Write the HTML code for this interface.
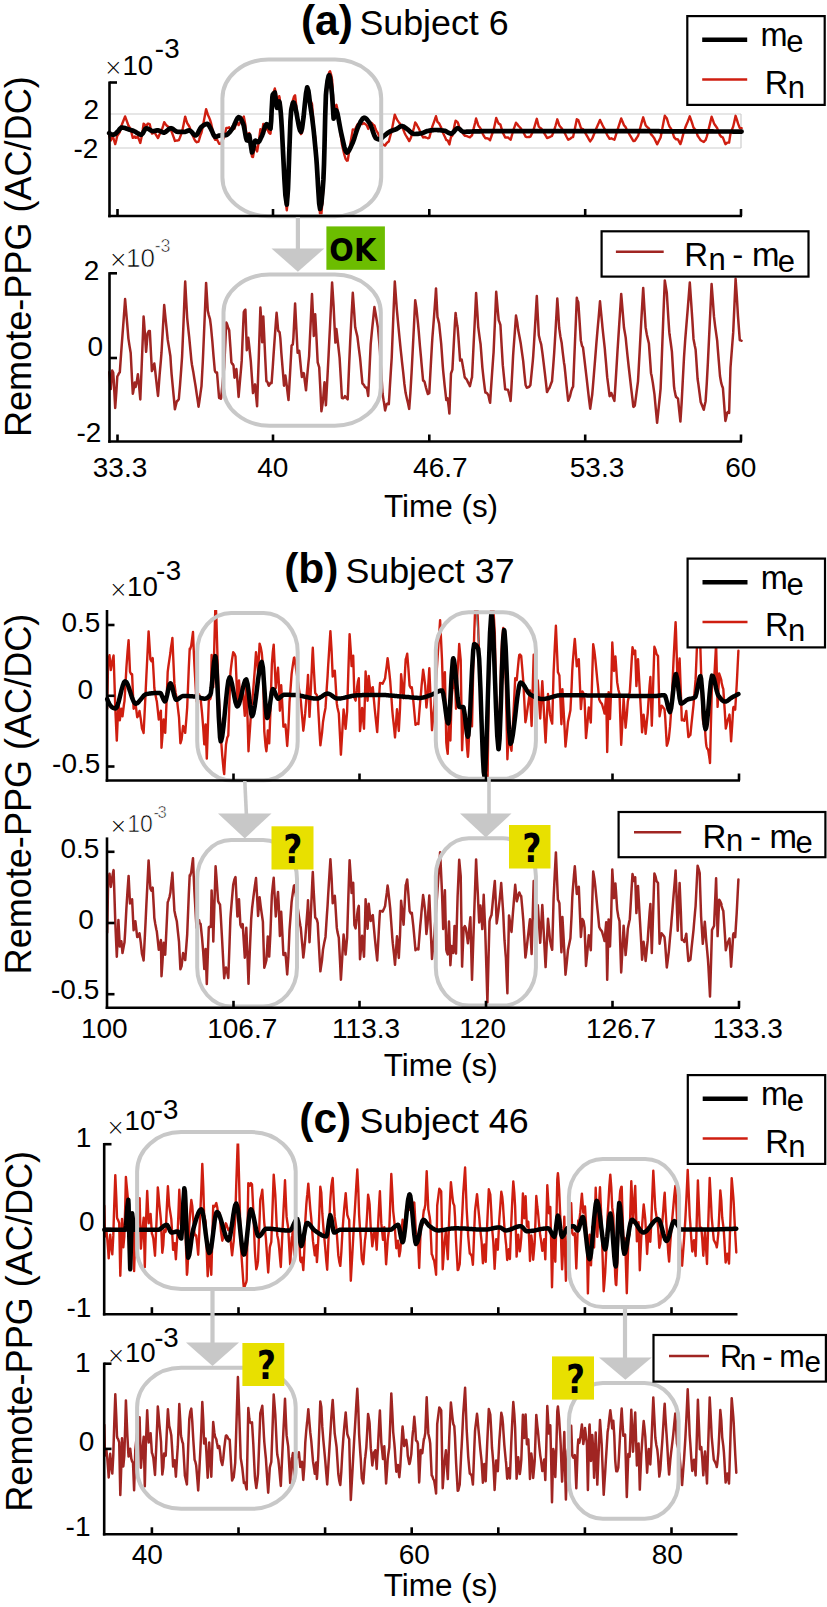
<!DOCTYPE html><html><head><meta charset="utf-8"><title>Remote-PPG figure</title><style>html,body{margin:0;padding:0;background:#fff;}body{width:827px;height:1607px;overflow:hidden}svg{display:block}</style></head><body>
<svg width="827" height="1607" viewBox="0 0 827 1607">
<rect x="0" y="0" width="827" height="1607" fill="#fff"/>
<defs><clipPath id="clipa1"><rect x="0" y="60" width="827" height="156"/></clipPath><clipPath id="clipa2"><rect x="0" y="273" width="827" height="168.5"/></clipPath><clipPath id="clipb1"><rect x="0" y="610" width="827" height="170.5"/></clipPath><clipPath id="clipb2"><rect x="0" y="837.4" width="827" height="170.4"/></clipPath><clipPath id="clipc1"><rect x="0" y="1143.6" width="827" height="170.6"/></clipPath><clipPath id="clipc2"><rect x="0" y="1363.7" width="827" height="170.6"/></clipPath></defs>
<line x1="109.5" y1="114" x2="741" y2="114" stroke="#cdcdcd" stroke-width="1.2" stroke-linecap="butt"/>
<line x1="109.5" y1="148" x2="741" y2="148" stroke="#cdcdcd" stroke-width="1.2" stroke-linecap="butt"/>
<line x1="741" y1="114" x2="741" y2="148" stroke="#cdcdcd" stroke-width="1.2" stroke-linecap="butt"/>
<polyline points="109.2,136.1 110.4,139.6 110.8,140.5 111.6,138.6 112.2,137.2 112.8,137.5 113.2,137.7 113.7,139.2 115.2,144.1 116.4,139.6 117.3,135.7 118.1,134.6 118.8,133.5 119.8,132 121.2,126.6 121.7,125.1 122.4,123.3 123.6,120.3 124.8,117.2 125.1,116.4 126,118.9 127.2,122.1 128.4,125.5 129.6,127.4 130.7,129.1 132,134.7 132.8,137.9 133.2,137.7 134,137.1 134.4,136.8 134.8,136.4 135.6,137.8 136.8,137.5 137.9,136.8 139.2,140.1 140.3,143 141.3,138.3 142.8,129.4 143.6,123.6 144,123.9 145.2,125.2 146.1,127.1 147.6,123.7 148.8,123.8 149.8,124.4 151.2,130.6 151.9,133.6 152.4,133.5 152.9,133.2 153.6,132.7 154.3,132.2 154.8,132.8 156,134.8 157.2,136.8 158,138.1 158.4,137.2 159.6,134.3 160.8,132.2 161.5,130.9 162,129.4 163.2,125.7 163.8,123.7 164.2,122.1 165.6,124.2 166.8,125.6 167.7,126.5 168,126.7 169.2,127.1 170.4,128.1 171,129.9 171.6,131.6 172.8,134.8 174,138.2 174.9,140.9 175.2,140.8 176.4,140.6 176.9,140.5 177.5,140.5 178.8,140.2 180,137.4 181.2,134.2 182.1,131.6 182.4,130.2 183.6,124.5 184.8,118.3 185.2,116.6 186,119.4 187.2,123.1 188.4,125 189.2,126.3 189.6,127.2 190.8,130.5 191.3,132.1 192,133.9 193.2,136.6 194.4,139.3 195,140.4 195.6,141.3 196.8,142.2 198,141.9 198.5,141.7 199.2,139.5 200.4,135.4 201.5,132.5 202.8,126.7 203.2,124.6 204,120.3 205.2,113.9 206.1,109.2 207.3,112.9 207.8,114.7 208.8,116.7 210,119.6 210.9,122.6 212.4,129 212.9,131.5 213.6,134.7 214.8,139.3 215.3,139.8 216,139.8 217,139.4 218.4,142.3 219.1,143.7 219.6,143.6 220.8,143.7 221.1,143.5 222,141.5 223.2,139.2 224.2,137.2 225.6,131 225.9,129.7 226.3,128 226.8,128 228,127.9 229.2,127.3 230.4,129.2 231.4,130.9 232.4,129.9 232.8,129.3 233.5,128.4 234,128.6 234.5,128.6 235.2,126.2 236.4,122.4 237.6,123.1 238.6,125.1 240,122.4 241.2,121.5 241.7,121.2 242.4,119.3 243.3,117.3 243.8,116.6 244.8,121.7 245.4,125 246,131.5 246.8,138.8 247.2,138.3 248.3,133.6 249.3,133 250.8,146 252,156.7 253,157 254.4,148.5 255.1,146.1 255.6,147.2 256.8,150.7 257.1,151.5 258,146.5 258.8,141.7 259.2,138.4 260.4,129.1 261.6,130.2 262.2,132.2 262.8,127.9 263.3,124 264,124.6 264.7,125.4 265.2,126.3 266.4,129.1 266.7,128.9 267.6,129.8 268.4,131.5 268.8,132.4 270,133.7 270.5,133.7 271.2,125.9 271.6,116.4 272.4,99.8 272.7,96.9 273.6,92.7 274.8,88.5 276,93.4 276.6,97.4 277,99.8 278.2,98.8 279.2,96.2 279.6,97.6 280.3,104 280.8,110.2 281.3,118.7 282,132.1 283.2,158.9 284,176.7 284.4,184.2 285.4,198.8 286.8,210.3 288,196.4 288.5,183.9 289.2,160.5 290.4,123.3 291.2,109.2 291.6,105.6 292.8,100.5 293.4,98.5 294,96.6 295.1,95.3 296.4,106.9 297.6,118.5 298.8,124.7 299.2,126.2 300,130.6 301,134.1 301.9,133 302.2,131.1 303.6,120 303.9,116.9 304.8,109.1 306,99.9 307.2,91 308.4,91.9 309.1,95.5 309.6,97.9 310.3,100.3 310.8,101.3 312,103.9 313.2,118.8 313.8,127.4 314.4,131.4 315.2,137.4 315.6,143 316.3,153.3 316.8,162 317.7,180.7 318,186.5 319.2,205.6 320.1,214.3 321.4,214.2 322.8,196.9 323.4,187.4 324,170.7 324.5,151.4 325.2,123.6 325.9,104.8 326.4,97.5 327.6,83.7 328.6,75.5 329.2,72.2 330,71.2 331.2,75 332.1,79.8 333.6,108.3 334.8,109.2 335.4,108.4 335.9,105.8 336.4,104.8 337.2,108.3 338.4,116 339.6,125 340.8,135.5 341.4,140.2 341.9,144.3 343.2,150 344.4,155 345,157 345.6,158.9 346.8,160.7 347.7,160.5 348,158.7 349.2,151.3 350.2,145 351.6,136.5 352.2,133.1 352.8,129.5 354,129.6 355.2,129.3 356.4,126.5 357.4,124.5 358.8,123.4 360,123 360.4,122.9 361.2,123.3 362.4,124.1 363.6,123.3 364.2,123.3 364.8,123.7 366,124.6 366.6,125.2 367.2,126.3 368.2,128.9 369.6,125.1 370.7,122.6 372,123.3 373.2,124.7 374.4,125.5 375.6,129.1 376.2,130.3 376.8,131.4 377.9,133.1 379.2,136.2 380,138 380.4,139.4 381.6,142.3 382.6,144.4 383.7,144.9 384,145 385.1,145.6 386.4,143.5 386.8,143 387.6,142.3 388.8,141.5 389.5,138.9 390,137 391.2,132.6 391.7,130.9 392.4,127.1 393.6,120.7 394.8,114.6 396,117.4 396.8,119.2 397.2,119.9 398.4,121.6 399.6,123.2 400.8,124.9 401.6,126.1 402,126.9 403.2,129.3 404.4,132.4 405.6,135 406.8,137 408,138.9 409.2,141.1 410.4,138.9 411.6,135.8 412.8,131.9 414,127.6 415.2,122.5 416.4,124 417.6,126.3 418,126.9 418.8,128.6 420,131.3 421.1,133.5 421.4,134.2 422.4,136.2 423.1,137.4 423.6,137.1 424.6,137 426,137.5 427.2,138 427.9,138.3 428.4,138.1 429.3,137.8 429.6,136.6 430.8,132 432,127.6 432.4,126.3 433.2,124.1 434.4,120.9 435.6,117.5 436,116.2 436.8,119.2 437.5,122 438,122.3 439.1,123.4 440.4,126 441.2,127.6 441.6,128.7 442.8,132.3 443.2,133.3 444,135 444.6,136.3 445.2,137.5 446.3,140 447.6,140.3 448.8,143 449.4,144.4 450,141.6 451,136.9 452.4,135.6 453.6,129.9 454.8,124 455.6,120.7 456,120.9 457.2,121.9 457.6,122.2 458.4,124.3 459.6,128.3 460.1,130.1 460.8,130.7 461.7,131.4 463.2,133.9 463.5,134.2 464.4,135.3 464.8,135.8 465.6,135.9 466.8,136.2 467.5,136.4 468,136.6 469.2,137 469.9,137.3 470.4,136.8 471.6,135.7 472,135.5 472.8,132.2 473.7,128.4 474,127.2 475.2,122.5 476.1,118.5 477.6,123.1 478.2,125.2 478.8,126.1 480,127.8 480.6,128.6 481.2,130.2 482.4,133.3 483.6,135.5 484.8,137.4 485.4,138.2 486,138.2 487.2,138.3 488,138.6 488.4,138.7 489.6,139.8 490.1,140.2 490.8,138 492,134.5 493.2,131.1 493.6,130 494.4,126.4 495,123.7 495.6,120.9 496.2,118 496.8,119.4 498,122.2 498.7,123.6 499.2,123.9 500.4,124.6 501.6,128.7 502.8,132.6 504,135 505.2,137.5 506.4,137.5 507.6,137.5 508,137.5 508.8,138.2 510,139.1 510.6,139.8 511.2,137.8 512.4,133.5 513.1,130.7 513.6,129.3 514.8,126.1 516,122.7 517.2,124 518.2,125.6 519.6,127 520.8,128.4 522,130.1 523.2,131.8 524.4,134.3 525.6,136.6 526.8,137.1 528,137.1 528.5,137 529.2,137 530.4,136.6 531.6,134.2 532.8,131.8 533.2,130.8 534,128.3 535.2,124.4 536.4,120.2 536.8,118.8 537.6,122 538.8,126.7 540,127.7 541.2,128.5 542.4,130.2 543.6,132.2 543.9,132.6 544.8,134.1 546,136.2 547,138 548.4,137.5 549.6,137.1 550.8,136.5 552,135.9 553.2,132.8 554.2,130.1 555.6,125.5 556.8,121.2 557.3,119.3 558,121.3 559.2,125.2 560.4,126.9 561.6,128.1 562.8,130.2 564,132.2 564.5,132.7 565.2,134 566.4,136.5 567.6,138.7 568.2,139.8 568.8,139.5 570,138.9 570.7,138.3 571.2,137.8 572.4,137.2 573.1,137 573.6,134.6 574.8,128.9 576,123.3 576.8,119.2 577.2,119.5 578.3,120.1 579.6,123.9 580.8,127.7 582,128.8 583,129.1 584.4,131.5 585.5,133.3 586.8,135.6 588,137.7 589.2,139.8 590.2,141.4 591.6,139.4 592.2,138.6 592.8,137.2 594,134.3 595.2,131.3 596.4,128.3 597.6,125.5 598.8,122.8 600,119.9 601.2,122.4 602.1,124.2 602.4,125 603.6,127.2 604.8,129.4 605.1,130.2 606,132.2 607.2,135.1 608.4,136.9 609.6,138.9 610.8,138.6 611.3,138.3 612,138.6 613.2,139.2 614.4,139.8 615.6,136.1 616.8,132.2 617.5,129.9 618,128.3 619.2,124.6 620.4,121 621.2,118.4 621.6,119.4 622.8,122.3 624,125.2 625.2,126.6 625.7,127.2 626.4,128.7 627.6,131 628.8,133.2 630,135.3 630.8,136.7 631.2,137.4 632.4,139.4 633.3,141 633.6,141.1 634.8,140.8 636,139 637.2,137.2 638,135.9 638.4,134.6 639.6,130.2 640.8,125.7 642,121.4 643.2,117.3 644.4,121.3 645.6,125.2 646.8,126.6 648,127.7 648.9,128.4 650.4,132.6 651,134.4 651.6,134.8 652.8,136.3 654,137.9 654.5,138.7 655.2,140.2 656.4,142.8 657.1,144.3 657.6,143.4 658.8,141 660,138.7 660.6,137.5 661.2,134.5 662.4,128.1 663.6,121.7 664.8,115.8 666,117.4 666.8,118.3 667.2,119.7 668.4,123.6 669.3,126.2 669.6,126.7 670.8,128.4 671.9,130.1 673.2,134.4 674,137 674.4,137.6 675.6,138.9 676,139.2 676.8,139.3 678,139.5 679.2,141.9 680.4,144.1 681.6,140.5 682.8,135.9 684,131.3 685.2,127.8 686.4,124.8 687.6,122 688.8,118.9 689.8,116.3 691.2,120.4 692.4,124 693.5,127.6 694.8,129 695.6,129.8 696,130.9 697.2,134.4 697.6,135.7 698.4,136.8 699.6,138.6 700.7,140.3 702,141 703.2,141.6 703.8,141.9 704.4,141.2 705.6,140.2 706.8,136.5 707.9,132.4 709.2,126.9 710.4,121.9 711.6,116.7 712.8,119.9 714,123.3 715.2,125.3 716.4,127 717.2,128.2 717.6,129.2 718.8,132.2 720,135.2 721.2,136.6 722.4,137.3 722.9,137.6 723.6,139.4 724.8,142.6 725.4,144.2 726,143.8 727.2,142.6 728.4,142.4 729.1,142.6 729.6,139.3 730.5,133.5 732,129.6 733.2,126.5 734.4,121.3 735.6,115.8 736.8,119.3 738,123.4 739.2,126.6 739.8,128.1 740.4,128.1 741,128.2 741.6,128.3" fill="none" stroke="#cf1e10" stroke-width="2.4" stroke-linejoin="round" stroke-linecap="round" clip-path="url(#clipa1)"/>
<polyline points="109.2,133.1 110.4,134 110.8,134.1 111.6,134.4 112.2,134.6 112.8,134.7 113.2,134.7 113.7,134.7 115.2,134 116.4,132.9 117.3,131.9 118.1,131.1 118.8,130.3 119.8,129 121.2,127.6 121.7,127.5 122.4,127.5 123.6,127.7 124.8,128 125.1,128.1 126,128.4 127.2,128.8 128.4,129.3 129.6,129.7 130.7,130 132,130.4 132.8,130.6 133.2,130.8 134,131.1 134.4,131.3 134.8,131.5 135.6,131.9 136.8,132.7 137.9,133.4 139.2,134.1 140.3,134.6 141.3,134.7 142.8,133.3 143.6,131.9 144,131.2 145.2,129.1 146.1,128.3 147.6,128.5 148.8,129.1 149.8,129.8 151.2,130.6 151.9,130.9 152.4,131.1 152.9,131.1 153.6,131.1 154.3,131 154.8,130.9 156,130.6 157.2,130.4 158,130.4 158.4,130.4 159.6,130.8 160.8,131.4 161.5,131.9 162,132.1 163.2,132.5 163.8,132.6 164.2,132.6 165.6,131.9 166.8,130.9 167.7,130.1 168,129.9 169.2,128.9 170.4,128.3 171,128.2 171.6,128.3 172.8,128.9 174,129.8 174.9,130.5 175.2,130.8 176.4,131.5 176.9,131.7 177.5,131.8 178.8,131.8 180,131.8 181.2,131.8 182.1,131.8 182.4,131.8 183.6,131.8 184.8,131.8 185.2,131.8 186,131.5 187.2,131 188.4,130.5 189.2,130.4 189.6,130.5 190.8,131.2 191.3,131.7 192,132.4 193.2,133.8 194.4,135 195,135.3 195.6,135.5 196.8,134.8 198,132.9 198.5,131.8 199.2,130.4 200.4,128.2 201.5,126.8 202.8,125.8 203.2,125.5 204,125 205.2,124.4 206.1,124.1 207.3,123.9 207.8,124 208.8,125.2 210,127.3 210.9,128.9 212.4,132.1 212.9,133.3 213.6,134.9 214.8,136.7 215.3,136.9 216,136.8 217,136.5 218.4,135.8 219.1,135.6 219.6,135.5 220.8,135.4 221.1,135.4 222,135.3 223.2,135.3 224.2,135.2 225.6,135.1 225.9,135.1 226.3,135 226.8,134.8 228,134 229.2,132.7 230.4,131.2 231.4,129.9 232.4,128.6 232.8,128 233.5,126.8 234,125.7 234.5,124.5 235.2,122.9 236.4,120.1 237.6,118 238.6,117.2 240,117.7 241.2,119.5 241.7,120.5 242.4,122.1 243.3,124.2 243.8,125.7 244.8,131.1 245.4,134.6 246,137.7 246.8,140.3 247.2,140.5 248.3,137.5 249.3,135.1 250.8,145.2 252,152.5 253,149.9 254.4,142.7 255.1,140.7 255.6,140.6 256.8,141.5 257.1,141.8 258,142.2 258.8,141.8 259.2,141.3 260.4,139.1 261.6,136.6 262.2,135.2 262.8,133.7 263.3,132.2 264,129.8 264.7,127.6 265.2,126.3 266.4,124.3 266.7,124.2 267.6,124.8 268.4,126.1 268.8,126.7 270,128.4 270.5,128.6 271.2,120.8 271.6,111.3 272.4,96.9 272.7,94.8 273.6,93.4 274.8,92.6 276,100.8 276.6,106.3 277,107.9 278.2,104.1 279.2,101.4 279.6,102.6 280.3,107.9 280.8,112.8 281.3,119.7 282,131.4 283.2,155.3 284,171.1 284.4,179.1 285.4,195.1 286.8,204.6 288,188.7 288.5,175.4 289.2,154.2 290.4,121.3 291.2,110.1 291.6,108 292.8,103.1 293.4,102.4 294,102.9 295.1,106.1 296.4,112.5 297.6,119.4 298.8,125.8 299.2,127.6 300,130.4 301,131.8 301.9,129.1 302.2,127.5 303.6,116.9 303.9,113.7 304.8,104.4 306,93.4 307.2,87.3 308.4,90.8 309.1,95.8 309.6,100.4 310.3,105.7 310.8,108.8 312,116.6 313.2,126.4 313.8,131.7 314.4,137.7 315.2,146.1 315.6,150.2 316.3,157.9 316.8,164.6 317.7,179.7 318,185.3 319.2,203.6 320.1,209 321.4,203.4 322.8,188 323.4,179.7 324,164.6 324.5,146.5 325.2,116.2 325.9,95.3 326.4,89.8 327.6,80.4 328.6,76 329.2,75.2 330,77.3 331.2,86.2 332.1,94.8 333.6,118.6 334.8,114.4 335.4,111.4 335.9,110.1 336.4,110.5 337.2,112.6 338.4,118.1 339.6,124.9 340.8,131.4 341.4,134 341.9,136.2 343.2,141.9 344.4,147.1 345,149.3 345.6,151 346.8,152.5 347.7,152.1 348,151.8 349.2,150.1 350.2,148.2 351.6,145.1 352.2,143.8 352.8,142.5 354,139.2 355.2,135.4 356.4,131.5 357.4,128.7 358.8,125.3 360,123 360.4,122.1 361.2,120.8 362.4,118.9 363.6,117.9 364.2,117.7 364.8,117.8 366,118.5 366.6,119.1 367.2,119.8 368.2,121.2 369.6,123.1 370.7,125.3 372,128.8 373.2,132.4 374.4,135.6 375.6,137.9 376.2,138.4 376.8,138.7 377.9,139.1 379.2,139.4 380,139.3 380.4,139.1 381.6,138.2 382.6,137.1 383.7,136.2 384,136 385.1,135.1 386.4,134 386.8,133.7 387.6,133 388.8,132.2 389.5,131.8 390,131.5 391.2,131 391.7,130.8 392.4,130.6 393.6,130.1 394.8,129.7 396,129.3 396.8,128.9 397.2,128.7 398.4,127.8 399.6,126.9 400.8,126.2 401.6,126 402,126 403.2,126.4 404.4,127.1 405.6,128 406.8,128.8 408,129.7 409.2,130.8 410.4,131.9 411.6,132.9 412.8,133.6 414,134 415.2,134 416.4,133.9 417.6,133.8 418,133.8 418.8,133.7 420,133.5 421.1,133.4 421.4,133.3 422.4,133 423.1,132.8 423.6,132.6 424.6,132.1 426,131.5 427.2,131.1 427.9,131 428.4,130.9 429.3,130.7 429.6,130.6 430.8,130.4 432,130.3 432.4,130.2 433.2,130.1 434.4,130 435.6,130 436,130 436.8,130 437.5,130 438,130.1 439.1,130.1 440.4,130.2 441.2,130.3 441.6,130.4 442.8,130.5 443.2,130.6 444,130.7 444.6,130.8 445.2,130.9 446.3,131.4 447.6,132.2 448.8,132.9 449.4,133.2 450,133.5 451,133.7 452.4,133.2 453.6,132 454.8,130.5 455.6,129.6 456,129.1 457.2,128.3 457.6,128.2 458.4,128.3 459.6,129.1 460.1,129.5 460.8,130.2 461.7,131 463.2,131.8 463.5,131.8 464.4,131.8 464.8,131.8 465.6,131.8 466.8,131.7 467.5,131.7 468,131.7 469.2,131.6 469.9,131.6 470.4,131.5 471.6,131.5 472,131.5 472.8,131.4 473.7,131.4 474,131.4 475.2,131.4 476.1,131.3 477.6,131.3 478.2,131.3 478.8,131.3 480,131.3 480.6,131.3 481.2,131.2 482.4,131.2 483.6,131.2 484.8,131.2 485.4,131.2 486,131.2 487.2,131.2 488,131.1 488.4,131.1 489.6,131.1 490.1,131.1 490.8,131.1 492,131.1 493.2,131.1 493.6,131.1 494.4,131.1 495,131.1 495.6,131.1 496.2,131.1 496.8,131.1 498,131.1 498.7,131.1 499.2,131.1 500.4,131.1 501.6,131.1 502.8,131.1 504,131.1 505.2,131.1 506.4,131.1 507.6,131.1 508,131.1 508.8,131.1 510,131.1 510.6,131.1 511.2,131.1 512.4,131.1 513.1,131.1 513.6,131.1 514.8,131.1 516,131.1 517.2,131.1 518.2,131.1 519.6,131.1 520.8,131.1 522,131.1 523.2,131.1 524.4,131.1 525.6,131.1 526.8,131.1 528,131.1 528.5,131.1 529.2,131.1 530.4,131.1 531.6,131.1 532.8,131.1 533.2,131.1 534,131.1 535.2,131.1 536.4,131.1 536.8,131.1 537.6,131.1 538.8,131.1 540,131.1 541.2,131.1 542.4,131.1 543.6,131.1 543.9,131.1 544.8,131.1 546,131.1 547,131.1 548.4,131.1 549.6,131.1 550.8,131.1 552,131.1 553.2,131.1 554.2,131.1 555.6,131.1 556.8,131.1 557.3,131.1 558,131.1 559.2,131.1 560.4,131.1 561.6,131.1 562.8,131.1 564,131.1 564.5,131.1 565.2,131.1 566.4,131.1 567.6,131.1 568.2,131.1 568.8,131.1 570,131.1 570.7,131.1 571.2,131.1 572.4,131.1 573.1,131.1 573.6,131.1 574.8,131.1 576,131.1 576.8,131.1 577.2,131.1 578.3,131.1 579.6,131.1 580.8,131.1 582,131.1 583,131.1 584.4,131.1 585.5,131.1 586.8,131.1 588,131.1 589.2,131.1 590.2,131.1 591.6,131.1 592.2,131.1 592.8,131.1 594,131.1 595.2,131.1 596.4,131.1 597.6,131.1 598.8,131.1 600,131.1 601.2,131.1 602.1,131.1 602.4,131.1 603.6,131.1 604.8,131.1 605.1,131.1 606,131.1 607.2,131.1 608.4,131.1 609.6,131.2 610.8,131.2 611.3,131.2 612,131.2 613.2,131.2 614.4,131.2 615.6,131.2 616.8,131.2 617.5,131.2 618,131.2 619.2,131.2 620.4,131.2 621.2,131.2 621.6,131.2 622.8,131.2 624,131.2 625.2,131.2 625.7,131.2 626.4,131.2 627.6,131.2 628.8,131.2 630,131.2 630.8,131.2 631.2,131.2 632.4,131.2 633.3,131.2 633.6,131.2 634.8,131.2 636,131.2 637.2,131.2 638,131.2 638.4,131.2 639.6,131.2 640.8,131.2 642,131.2 643.2,131.2 644.4,131.2 645.6,131.2 646.8,131.2 648,131.2 648.9,131.2 650.4,131.2 651,131.2 651.6,131.2 652.8,131.2 654,131.2 654.5,131.2 655.2,131.2 656.4,131.2 657.1,131.2 657.6,131.2 658.8,131.2 660,131.3 660.6,131.3 661.2,131.3 662.4,131.3 663.6,131.3 664.8,131.3 666,131.3 666.8,131.3 667.2,131.3 668.4,131.3 669.3,131.3 669.6,131.3 670.8,131.3 671.9,131.3 673.2,131.3 674,131.3 674.4,131.3 675.6,131.3 676,131.3 676.8,131.3 678,131.3 679.2,131.3 680.4,131.3 681.6,131.3 682.8,131.3 684,131.3 685.2,131.3 686.4,131.3 687.6,131.3 688.8,131.3 689.8,131.3 691.2,131.4 692.4,131.4 693.5,131.4 694.8,131.4 695.6,131.4 696,131.4 697.2,131.4 697.6,131.4 698.4,131.4 699.6,131.4 700.7,131.4 702,131.4 703.2,131.4 703.8,131.4 704.4,131.4 705.6,131.4 706.8,131.4 707.9,131.4 709.2,131.4 710.4,131.4 711.6,131.4 712.8,131.4 714,131.5 715.2,131.5 716.4,131.5 717.2,131.5 717.6,131.5 718.8,131.5 720,131.5 721.2,131.5 722.4,131.5 722.9,131.5 723.6,131.5 724.8,131.5 725.4,131.5 726,131.5 727.2,131.5 728.4,131.5 729.1,131.5 729.6,131.5 730.5,131.5 732,131.5 733.2,131.6 734.4,131.6 735.6,131.6 736.8,131.6 738,131.6 739.2,131.6 739.8,131.6 740.4,131.6 741,131.6 741.6,131.6" fill="none" stroke="#000" stroke-width="4.7" stroke-linejoin="round" stroke-linecap="round" clip-path="url(#clipa1)"/>
<rect x="222.4" y="59.5" width="158.8" height="156.7" rx="46" ry="39" fill="none" stroke="#c8c8c8" stroke-width="4"/>
<line x1="109.5" y1="81.5" x2="109.5" y2="217.3" stroke="#000" stroke-width="2.6" stroke-linecap="butt"/>
<line x1="108.2" y1="216" x2="742" y2="216" stroke="#000" stroke-width="2.6" stroke-linecap="butt"/>
<line x1="109.5" y1="82.5" x2="117" y2="82.5" stroke="#000" stroke-width="2.6" stroke-linecap="butt"/>
<line x1="117.5" y1="209" x2="117.5" y2="216" stroke="#000" stroke-width="2.6" stroke-linecap="butt"/>
<line x1="273" y1="209" x2="273" y2="216" stroke="#000" stroke-width="2.6" stroke-linecap="butt"/>
<line x1="429.3" y1="209" x2="429.3" y2="216" stroke="#000" stroke-width="2.6" stroke-linecap="butt"/>
<line x1="585.2" y1="209" x2="585.2" y2="216" stroke="#000" stroke-width="2.6" stroke-linecap="butt"/>
<line x1="741" y1="209" x2="741" y2="216" stroke="#000" stroke-width="2.6" stroke-linecap="butt"/>
<text x="83.4" y="118.7" font-size="28" text-anchor="start" font-weight="normal" font-family='"Liberation Sans", Arial, Helvetica, sans-serif' fill="#000">2</text>
<text x="73.4" y="157.7" font-size="28" text-anchor="start" font-weight="normal" font-family='"Liberation Sans", Arial, Helvetica, sans-serif' fill="#000">-2</text>
<text x="104" y="75.4" font-size="22.3" text-anchor="start" font-weight="200" font-family='"DejaVu Sans", sans-serif' fill="#000">×</text>
<text x="122.4" y="74.7" font-size="27.7" text-anchor="start" font-weight="normal" font-family='"Liberation Sans", Arial, Helvetica, sans-serif' fill="#000">10</text>
<text x="154.8" y="58.4" font-size="27.7" text-anchor="start" font-weight="normal" font-family='"Liberation Sans", Arial, Helvetica, sans-serif' fill="#000">-</text>
<text x="164.2" y="58.4" font-size="27.7" text-anchor="start" font-weight="normal" font-family='"Liberation Sans", Arial, Helvetica, sans-serif' fill="#000">3</text>
<polyline points="109.2,372.3 110.4,385.9 110.8,389.1 111.6,378.1 112.2,370.5 112.8,371.7 113.2,372.6 113.7,379.9 115.2,407.9 116.4,391.2 117.3,376.5 118.1,375.1 118.8,373.6 119.8,372.3 121.2,352.3 121.7,345.3 122.4,336.1 123.6,320.2 124.8,303.5 125.1,299.1 126,309.8 127.2,323.9 128.4,338.6 129.6,346.4 130.7,353 132,378.8 132.8,393.8 133.2,392.1 134,387.3 134.4,385.3 134.8,382.4 135.6,386.9 136.8,381.7 137.9,374.3 139.2,387.2 140.3,399.4 141.3,375.5 142.8,337.7 143.6,316.5 144,321.2 145.2,337.9 146.1,351.8 147.6,333.6 148.8,330.9 149.8,330.9 151.2,357.5 151.9,371.1 152.4,369.8 152.9,368.2 153.6,365.8 154.3,363.5 154.8,367.1 156,378.1 157.2,389.2 158,395.9 158.4,391.1 159.6,375 160.8,361.3 161.5,352.7 162,344 163.2,323.1 163.8,312.9 164.2,305.1 165.6,319.1 166.8,330.7 167.7,339.5 168,341.5 169.2,348.6 170.4,356.3 171,365.9 171.6,374.1 172.8,386.9 174,399.3 174.9,409.3 175.2,407.9 176.4,403 176.9,401.1 177.5,400.9 178.8,399.3 180,385.4 181.2,369.3 182.1,356.5 182.4,349.4 183.6,320.9 184.8,290.1 185.2,281.6 186,296.8 187.2,318.1 188.4,329.8 189.2,337.1 189.6,341.3 190.8,354.2 191.3,359.8 192,365 193.2,371.4 194.4,379 195,382.6 195.6,386.3 196.8,394.6 198,402.5 198.5,406.7 199.2,402.6 200.4,393.9 201.5,386.1 202.8,361.7 203.2,352.8 204,333.9 205.2,305.1 206.1,282.9 207.3,302.7 207.8,310.8 208.8,315.1 210,319.1 210.9,326 212.4,342 212.9,348.3 213.6,356.8 214.8,370.3 215.3,371.9 216,372.5 217,372.4 218.4,389.6 219.1,397.9 219.6,398 220.8,398.8 221.1,398 222,388.6 223.2,376.8 224.2,367.2 225.6,336.8 225.9,330.6 226.3,322.5 226.8,323.4 228,327.2 229.2,330.3 230.4,347.1 231.4,362.4 232.4,364.2 232.8,364.1 233.5,365.6 234,371.8 234.5,377.7 235.2,374.3 236.4,369 237.6,382.9 238.6,397 240,380.7 241.2,367.1 241.7,360.9 242.4,343.7 243.3,322.8 243.8,312.1 244.8,310.2 245.4,309.6 246,326.4 246.8,350.2 247.2,346.4 248.3,337.8 249.3,347 250.8,361.3 252,378.7 253,393.1 254.4,386.6 255.1,384.4 255.6,390.6 256.8,403.5 257.1,406.3 258,379.1 258.8,356.9 259.2,343.3 260.4,307.5 261.6,325.6 262.2,342.3 262.8,328.6 263.3,316.4 264,331.2 264.7,346.5 265.2,357.5 266.4,381.2 266.7,381 267.6,382.4 268.4,384.8 268.8,385.8 270,383.8 270.5,382.8 271.2,382.8 271.6,383.1 272.4,371.9 272.7,368 273.6,354.1 274.8,337 276,320.6 276.6,312.8 277,317.2 278.2,330.8 279.2,331.7 279.6,332.2 280.3,337.9 280.8,344.6 281.3,352.4 282,360.8 283.2,375.5 284,385.7 284.4,383.2 285.4,375.6 286.8,386 288,396.1 288.5,400.1 289.2,388.6 290.4,367.3 291.2,352.8 291.6,345.4 292.8,344.5 293.4,337.8 294,325.7 295.1,303.5 296.4,329.2 297.6,352.8 298.8,351.8 299.2,350.7 300,358.7 301,369 301.9,377 302.2,375.6 303.6,373 303.9,373.4 304.8,381 306,390.3 307.2,375.9 308.4,363 309.1,356.1 309.6,345 310.3,330.5 310.8,320.1 312,294 313.2,319.3 313.8,335.9 314.4,326.1 315.2,314.2 315.6,321.6 316.3,334.3 316.8,344.6 317.7,362.5 318,363.4 319.2,367.4 320.1,384.1 321.4,411.2 322.8,402.2 323.4,396 324,388.2 324.5,382.3 325.2,394.2 325.9,405.3 326.4,396.2 327.6,374 328.6,354.9 329.2,342.5 330,326.9 331.2,301.8 332.1,282.6 333.6,306 334.8,331.2 335.4,342.6 335.9,335.9 336.4,329.1 337.2,336.1 338.4,347 339.6,357.9 340.8,378.1 341.4,388.6 341.9,398 343.2,398.2 344.4,397.4 345,396.1 345.6,397 346.8,398.4 347.7,399.3 348,392.1 349.2,363.6 350.2,341.6 351.6,314.5 352.2,304.1 352.8,292.8 354,309.7 355.2,327.3 356.4,332.5 357.4,336.6 358.8,348.1 360,357.3 360.4,361.3 361.2,370.4 362.4,383.4 363.6,384.7 364.2,385.4 364.8,386.9 366,387.9 366.6,387.6 367.2,389.9 368.2,396 369.6,367.6 370.7,344.1 372,330.3 373.2,319 374.4,307.1 375.6,313.5 376.2,317.2 376.8,320.9 377.9,327.4 379.2,341.7 380,351.3 380.4,359.1 381.6,378 382.6,394 383.7,401 384,402.5 385.1,410.4 386.4,405.1 386.8,403.9 387.6,403.6 388.8,404.2 389.5,393.1 390,384.6 391.2,365.6 391.7,358 392.4,340.3 393.6,310.3 394.8,281.6 396,298.1 396.8,309.1 397.2,313.4 398.4,326.3 399.6,338.7 400.8,350.7 401.6,357.8 402,361.8 403.2,372.4 404.4,384 405.6,392.8 406.8,398.3 408,403.3 409.2,408.9 410.4,392.7 411.6,372.2 412.8,348.9 414,325.3 415.2,300.3 416.4,307.9 417.6,319.7 418,323.3 418.8,332.2 420,346.5 421.1,358.3 421.4,362.2 422.4,373 423.1,380.7 423.6,380.4 424.6,382 426,387.6 427.2,391.9 427.9,394 428.4,393.7 429.3,393.2 429.6,387.1 430.8,365.1 432,344 432.4,337.7 433.2,327.5 434.4,311.8 435.6,294.9 436,288.4 436.8,303.7 437.5,317.2 438,318.9 439.1,323.6 440.4,336.1 441.2,343.8 441.6,349.3 442.8,366.4 443.2,371.2 444,379 444.6,385.1 445.2,390.3 446.3,400.1 447.6,398.2 448.8,407.7 449.4,413.6 450,397.9 451,373.5 452.4,369.6 453.6,347.1 454.8,325.2 455.6,312.9 456,316.5 457.2,325.3 457.6,327.4 458.4,337.1 459.6,353.3 460.1,360.6 460.8,359.9 461.7,359.6 463.2,368.2 463.5,369.7 464.4,375.3 464.8,377.4 465.6,378.4 466.8,379.7 467.5,381.2 468,382.4 469.2,384.6 469.9,386.2 470.4,384 471.6,378.5 472,377.5 472.8,361.2 473.7,342.6 474,336.8 475.2,313 476.1,293.1 477.6,316.6 478.2,326.8 478.8,331.4 480,340.3 480.6,344.3 481.2,352.2 482.4,367.8 483.6,378.8 484.8,388.6 485.4,392.6 486,392.7 487.2,393.4 488,394.7 488.4,395.3 489.6,400.9 490.1,402.8 490.8,391.9 492,374.3 493.2,357.3 493.6,352.1 494.4,333.8 495,320.6 495.6,306.3 496.2,291.8 496.8,298.9 498,312.8 498.7,320.2 499.2,321.4 500.4,324.8 501.6,345.3 502.8,365.2 504,377.1 505.2,389.3 506.4,389.6 507.6,389.7 508,389.7 508.8,392.9 510,397.6 510.6,401 511.2,391.2 512.4,369.5 513.1,355.6 513.6,348.3 514.8,332.3 516,315.6 517.2,322.2 518.2,330.1 519.6,337.2 520.8,343.8 522,352.6 523.2,361.1 524.4,373.6 525.6,385.1 526.8,387.7 528,387.4 528.5,387.1 529.2,386.8 530.4,385 531.6,373.2 532.8,361 533.2,356.2 534,343.6 535.2,323.9 536.4,302.8 536.8,296.1 537.6,312.2 538.8,335.3 540,340.3 541.2,344.3 542.4,352.8 543.6,362.7 543.9,365.1 544.8,372.6 546,383 547,392.1 548.4,389.4 549.6,387.7 550.8,384.3 552,381.3 553.2,366.1 554.2,352.7 555.6,329.5 556.8,308.2 557.3,298.5 558,308.6 559.2,328 560.4,336.4 561.6,342.4 562.8,352.8 564,362.7 564.5,365.5 565.2,372.1 566.4,384.3 567.6,395.6 568.2,400.8 568.8,399.2 570,396.2 570.7,393.2 571.2,391.1 572.4,387.8 573.1,386.8 573.6,374.9 574.8,346.2 576,318.3 576.8,297.7 577.2,299.6 578.3,302.3 579.6,321.6 580.8,340.2 582,345.8 583,347.4 584.4,359.2 585.5,368.6 586.8,379.7 588,390.4 589.2,400.7 590.2,408.7 591.6,398.8 592.2,394.8 592.8,387.8 594,373.2 595.2,358.4 596.4,343.1 597.6,329.1 598.8,315.8 600,301.3 601.2,313.9 602.1,323 602.4,326.6 603.6,337.8 604.8,348.7 605.1,352.6 606,362.7 607.2,377.2 608.4,386.3 609.6,396.2 610.8,395 611.3,393 612,394.8 613.2,397.7 614.4,400.9 615.6,382.2 616.8,362.6 617.5,351 618,343.3 619.2,324.8 620.4,306.5 621.2,293.9 621.6,298.5 622.8,313.2 624,327.8 625.2,334.6 625.7,337.6 626.4,345 627.6,356.7 628.8,367.5 630,378 630.8,385.2 631.2,388.6 632.4,398.4 633.3,406.5 633.6,406.8 634.8,405.6 636,396.7 637.2,387.3 638,381.3 638.4,374.4 639.6,352.4 640.8,329.9 642,308.6 643.2,287.9 644.4,308 645.6,327.2 646.8,334.4 648,339.8 648.9,343.5 650.4,364.4 651,373.2 651.6,375.6 652.8,382.6 654,391 654.5,394.6 655.2,402.5 656.4,415.2 657.1,422.8 657.6,418.1 658.8,406.5 660,394.8 660.6,388.7 661.2,373.7 662.4,341.7 663.6,309.9 664.8,280.4 666,288 666.8,292.8 667.2,299.5 668.4,319 669.3,332.2 669.6,334.8 670.8,343.2 671.9,351.6 673.2,372.8 674,386.1 674.4,389.2 675.6,395.4 676,396.9 676.8,397.5 678,398.6 679.2,410.3 680.4,421.6 681.6,403.3 682.8,380.3 684,357.5 685.2,339.9 686.4,325.1 687.6,310.7 688.8,295.4 689.8,282.5 691.2,302.9 692.4,320.7 693.5,338.9 694.8,345.8 695.6,349.5 696,355 697.2,372.9 697.6,379 698.4,384.4 699.6,393.5 700.7,402 702,405.3 703.2,408.4 703.8,409.8 704.4,406.5 705.6,401.2 706.8,382.9 707.9,362.4 709.2,335.1 710.4,309.7 711.6,284 712.8,299.7 714,316.7 715.2,326.6 716.4,335.1 717.2,340.9 717.6,346.3 718.8,361.1 720,376 721.2,382.9 722.4,386.8 722.9,387.9 723.6,396.8 724.8,413.1 725.4,421 726,418.8 727.2,412.7 728.4,411.6 729.1,412.9 729.6,396.4 730.5,367.5 732,348 733.2,332.4 734.4,306.1 735.6,278.8 736.8,296.1 738,316.4 739.2,332.3 739.8,340.2 740.4,340.2 741,340.5 741.6,340.8" fill="none" stroke="#a02522" stroke-width="2.5" stroke-linejoin="round" stroke-linecap="round" clip-path="url(#clipa2)"/>
<rect x="223.5" y="274.6" width="157.3" height="151.1" rx="46" ry="38" fill="none" stroke="#c8c8c8" stroke-width="4"/>
<line x1="109.5" y1="272.2" x2="109.5" y2="442.8" stroke="#000" stroke-width="2.6" stroke-linecap="butt"/>
<line x1="108.2" y1="441.5" x2="742" y2="441.5" stroke="#000" stroke-width="2.6" stroke-linecap="butt"/>
<line x1="109.5" y1="273.3" x2="117" y2="273.3" stroke="#000" stroke-width="2.6" stroke-linecap="butt"/>
<line x1="109.5" y1="358" x2="117" y2="358" stroke="#000" stroke-width="2.6" stroke-linecap="butt"/>
<line x1="117.5" y1="434.5" x2="117.5" y2="441.5" stroke="#000" stroke-width="2.6" stroke-linecap="butt"/>
<line x1="273" y1="434.5" x2="273" y2="441.5" stroke="#000" stroke-width="2.6" stroke-linecap="butt"/>
<line x1="429.3" y1="434.5" x2="429.3" y2="441.5" stroke="#000" stroke-width="2.6" stroke-linecap="butt"/>
<line x1="585.2" y1="434.5" x2="585.2" y2="441.5" stroke="#000" stroke-width="2.6" stroke-linecap="butt"/>
<line x1="741" y1="434.5" x2="741" y2="441.5" stroke="#000" stroke-width="2.6" stroke-linecap="butt"/>
<text x="83.8" y="279.8" font-size="28" text-anchor="start" font-weight="normal" font-family='"Liberation Sans", Arial, Helvetica, sans-serif' fill="#000">2</text>
<text x="87.6" y="356.3" font-size="28" text-anchor="start" font-weight="normal" font-family='"Liberation Sans", Arial, Helvetica, sans-serif' fill="#000">0</text>
<text x="76.5" y="442.4" font-size="28" text-anchor="start" font-weight="normal" font-family='"Liberation Sans", Arial, Helvetica, sans-serif' fill="#000">-2</text>
<text x="108.8" y="267.2" font-size="22.7" text-anchor="start" font-weight="200" font-family='"DejaVu Sans", sans-serif' fill="#000">×</text>
<text x="126" y="266.6" font-size="26" text-anchor="start" font-weight="normal" font-family='"Liberation Sans", Arial, Helvetica, sans-serif' fill="#000" stroke="#fff" stroke-width="0.6">10</text>
<text x="154.7" y="252.3" font-size="17.8" text-anchor="start" font-weight="normal" font-family='"Liberation Sans", Arial, Helvetica, sans-serif' fill="#000" stroke="#fff" stroke-width="0.6">-</text>
<text x="160.5" y="252.3" font-size="17.8" text-anchor="start" font-weight="normal" font-family='"Liberation Sans", Arial, Helvetica, sans-serif' fill="#000" stroke="#fff" stroke-width="0.6">3</text>
<text x="92.8" y="476.5" font-size="28" text-anchor="start" font-weight="normal" font-family='"Liberation Sans", Arial, Helvetica, sans-serif' fill="#000">33.3</text>
<text x="257.2" y="476.5" font-size="28" text-anchor="start" font-weight="normal" font-family='"Liberation Sans", Arial, Helvetica, sans-serif' fill="#000">40</text>
<text x="413.1" y="476.5" font-size="28" text-anchor="start" font-weight="normal" font-family='"Liberation Sans", Arial, Helvetica, sans-serif' fill="#000">46.7</text>
<text x="569.8" y="476.5" font-size="28" text-anchor="start" font-weight="normal" font-family='"Liberation Sans", Arial, Helvetica, sans-serif' fill="#000">53.3</text>
<text x="725.3" y="476.5" font-size="28" text-anchor="start" font-weight="normal" font-family='"Liberation Sans", Arial, Helvetica, sans-serif' fill="#000">60</text>
<text x="384" y="517.4" font-size="31.44" text-anchor="start" font-weight="normal" font-family='"Liberation Sans", Arial, Helvetica, sans-serif' fill="#000">Time (s)</text>
<line x1="297.9" y1="217" x2="297.9" y2="249.5" stroke="#c8c8c8" stroke-width="4.2" stroke-linecap="butt"/>
<polygon points="271.5,248.5 324.3,248.5 297.9,271.8" fill="#c8c8c8"/>
<rect x="326.4" y="226.4" width="58.5" height="43.4" fill="#6cbd00"/>
<text transform="translate(330.8,261.2) scale(0.922,1)" x="-1.6" y="0" font-size="31.33" font-weight="bold" font-family='"DejaVu Sans", sans-serif' fill="#000">OK</text>
<rect x="601.6" y="231.3" width="206.9" height="45.3" fill="#fff" stroke="#000" stroke-width="2.2"/>
<line x1="615.9" y1="251.7" x2="663.7" y2="251.7" stroke="#a02522" stroke-width="2.5" stroke-linecap="butt"/>
<text x="684.3" y="266.4" font-size="33" text-anchor="start" font-weight="normal" font-family='"Liberation Sans", Arial, Helvetica, sans-serif' fill="#000">R</text>
<text x="708.5" y="270" font-size="31" text-anchor="start" font-weight="normal" font-family='"Liberation Sans", Arial, Helvetica, sans-serif' fill="#000">n</text>
<text x="732.3" y="266.4" font-size="33" text-anchor="start" font-weight="normal" font-family='"Liberation Sans", Arial, Helvetica, sans-serif' fill="#000">-</text>
<text x="752" y="266.4" font-size="33" text-anchor="start" font-weight="normal" font-family='"Liberation Sans", Arial, Helvetica, sans-serif' fill="#000">m</text>
<text x="777.7" y="272.2" font-size="31" text-anchor="start" font-weight="normal" font-family='"Liberation Sans", Arial, Helvetica, sans-serif' fill="#000">e</text>
<rect x="687.3" y="16.1" width="137.4" height="88.8" fill="#fff" stroke="#000" stroke-width="2.2"/>
<line x1="702.2" y1="39.8" x2="747.2" y2="39.8" stroke="#000" stroke-width="4.6" stroke-linecap="butt"/>
<line x1="702.2" y1="79.4" x2="747.2" y2="79.4" stroke="#cf1e10" stroke-width="2.5" stroke-linecap="butt"/>
<text x="760.5" y="46.4" font-size="32.5" text-anchor="start" font-weight="normal" font-family='"Liberation Sans", Arial, Helvetica, sans-serif' fill="#000">m</text>
<text x="786.2" y="52.4" font-size="31" text-anchor="start" font-weight="normal" font-family='"Liberation Sans", Arial, Helvetica, sans-serif' fill="#000">e</text>
<text x="764.8" y="93.5" font-size="32.5" text-anchor="start" font-weight="normal" font-family='"Liberation Sans", Arial, Helvetica, sans-serif' fill="#000">R</text>
<text x="787.7" y="98" font-size="31" text-anchor="start" font-weight="normal" font-family='"Liberation Sans", Arial, Helvetica, sans-serif' fill="#000">n</text>
<text x="-3" y="0" font-size="36.07" text-anchor="start" font-weight="normal" font-family='"Liberation Sans", Arial, Helvetica, sans-serif' fill="#000" transform="translate(31.4,434) rotate(-90)">Remote-PPG (AC/DC)</text>
<text x="300.9" y="35" font-size="42.5" text-anchor="start" font-weight="bold" font-family='"Liberation Sans", Arial, Helvetica, sans-serif' fill="#000">(a)</text>
<text x="359.4" y="35" font-size="35.8" text-anchor="start" font-weight="normal" font-family='"Liberation Sans", Arial, Helvetica, sans-serif' fill="#000">Subject 6</text>
<polyline points="107.2,708.5 108.1,661 108.4,659.9 109.5,655.2 110.8,670.1 112,663.1 113.2,657.1 113.6,655.5 114.4,679.9 115.3,707.6 115.6,715.1 116.8,740.6 118,711.8 118.4,699.7 119.2,711.4 119.8,720.4 120.4,715.7 121.4,708.6 122.5,716.4 122.8,713.8 124,704 124.5,701.1 125.2,689.4 126.4,667.6 127.6,651.1 128.6,640.2 130,671.7 131.2,674.3 132.1,674.3 133.6,708.8 134.8,706 135.4,702 136,707.4 137.2,717.2 138.4,715.5 139.5,711 140.8,719.1 142,728.6 143.2,731.6 143.6,733 144.4,717.2 145.6,692.6 146.4,675.2 146.8,667.5 148,643.3 148.6,631.4 149.2,640.5 150.4,659.3 151.6,661.3 152.7,658.1 154,680.8 154.3,687.8 155.2,693.4 156.4,699.6 156.8,701.2 157.6,708.4 158.8,719.6 160,714.4 160.9,710.6 161.5,747.7 162.4,736.5 163.6,719.4 164.8,729.9 165.2,732.9 166,715 167.2,685 167.7,671.8 168.4,666.3 169.6,658.1 170.4,653 170.8,648.6 172,641.1 172.4,638 173.2,656.7 174.4,683.4 175.6,692.7 176.2,695.5 176.8,697.9 178,708.8 179,717.3 180.4,743.3 181.6,739.3 182.8,728.2 183.1,725.9 184,728.3 185.2,732.9 186.4,718 187.2,707.3 187.6,697.2 188.8,667.8 189.7,648.8 190,649.5 191.2,645.9 192.4,636.7 193,632 193.6,647.2 194.4,664.8 194.8,671.7 196,692.9 196.5,701.5 197.2,699.8 198.4,696.6 199.1,694.5 199.6,697.4 200.6,698.7 202,712.7 202.6,719.9 203.2,727.4 204.3,744.3 205.6,724.4 206.8,758.6 208,723.6 208.8,700.8 209.2,699.8 210.3,698.9 210.9,696.7 211.6,655 212.8,670.2 213.3,687.2 214,657.2 215.2,612.4 215.6,600.4 216.4,619.2 217.6,660.3 218.1,678 218.8,697 220,718.9 220.7,733 221.2,741.4 222.2,755.1 223.6,770 224.2,774.1 224.8,762.6 226,744.6 227.2,737.8 228.3,735.5 229.6,696.2 230.4,674.1 230.8,669.4 232,659.7 233.2,652.2 234.4,653.7 235.5,656.5 236.8,687.2 237.4,699.9 238,698.1 239,680.4 240.4,700.9 241.6,698.4 242.7,690 244,705.6 244.8,715.9 245.2,706.9 246.3,684 247.6,720.1 248.5,751.3 248.8,745.5 250,728.4 251.2,709.8 252.1,701.2 252.4,698.7 253.4,687.7 254.8,669.6 256,652.2 257.2,662.3 258.1,672.2 259.6,643.6 260.8,647.7 261.8,653.1 262.9,666.4 263.2,681.2 264.3,731.3 265.6,746.2 266.4,751.2 266.8,747.1 267.2,741.9 267.8,730.5 269.2,743.4 270.4,712 271.6,672.4 271.9,663.8 272.8,652.2 273.7,644.6 274,651.2 275.2,675.8 275.8,688.1 276.4,682.5 277.6,671.9 278,667.8 278.8,682 279.9,710.7 281.2,685.2 282.4,706.6 283.4,726.6 283.8,726.7 284.8,725.6 285.4,724.6 286,730.8 287.2,746 288.4,728.1 289.5,702.3 290.8,685.1 291.6,674.1 292,670.9 293.2,662.6 294,657.7 294.4,657.5 295.6,665.3 296.8,673.6 298,682.1 299.2,690.7 300.4,698.6 300.8,700.7 301.6,710.3 302.8,723.9 303.3,730.7 304,725.1 305.2,713.2 306.4,697.9 307.6,682.3 308,674.9 308.8,697.3 309.5,716.9 310,707 311.2,681.9 312.4,655 312.8,647.7 313.6,664.9 314.8,686 315.2,693 316,694 316.8,695 317.2,696.8 317.7,698.4 318.4,711.5 319.6,732.7 320.4,745.3 320.8,742.2 322,733.2 323,722 324.4,713.4 325.5,707.9 326.8,687.4 327.6,675.9 328,668.4 329.2,649.3 330.4,631.1 331.6,650.9 332.7,676.6 334,673.7 334.8,670.6 335.2,676.5 336.4,696.7 336.8,703.4 337.5,707.7 338.8,713.3 340,736 340.9,754.7 342.4,729.9 343.6,709.4 344.8,720.3 345.6,728.8 346,724.4 347.1,711.6 348.4,669.6 349.6,634.1 350.8,651.3 351.6,666.1 352,662.6 353.2,655.8 354.4,697.5 355.6,700.7 356.8,690.7 357.1,687.3 358,681.2 358.8,678.2 359.2,696.2 360,731.1 360.4,727.1 361.6,714.5 362.1,707.9 362.8,715.4 364,728.7 365.2,687.6 365.6,671.5 366.4,682.9 367.6,700.8 368.7,675.9 370,688.4 370.7,693 371.2,689.8 372.4,687.6 372.8,687.2 373.6,696.3 374.8,709.5 376,721.1 377.2,732.1 378.4,710.4 378.8,703.1 379.6,688.6 380,683 380.8,683.2 382,683.1 382.6,683.8 383.2,682.5 384.4,680 385.1,678.3 385.6,673.9 386.8,665.3 387.6,658.1 388,660.6 389.2,671.4 390.2,681 391.6,700.1 392.3,710.3 392.8,716 394,726.8 395,737.5 396.4,717.9 397,709.3 397.6,715.8 398.8,731 400,708.7 400.6,691.8 401.1,674.2 402.4,686.6 403.6,698.4 404.8,675.4 405.7,659.1 406,658.8 407.2,653.7 408.4,668.7 409.6,685.6 410.8,687.9 411.8,687.2 413.2,699.7 413.9,707 414.4,712.6 415.5,724.9 416.8,723.5 418,723.9 418.4,724.1 419.2,713.8 420.2,701.3 421.1,691.8 421.6,685.5 422.8,673.3 423.1,669.8 424,675.9 425.2,685.9 426.4,707.5 427.6,696.2 428.8,676.5 429.3,668.2 430,684.2 431.1,710.4 432,730.2 432.4,726.1 433.6,713.2 434.4,704.6 434.8,698.1 436,680.8 437.2,663.2 438.4,645.2 439.6,627.8 440.1,620.3 440.8,634.6 442,659.6 443.2,699.5 444.4,680 444.9,672.2 445.6,707.6 446.3,742.3 446.8,747.5 447.7,753.9 448.3,739.4 449,718.7 450.4,740.5 451.6,698.5 452.8,685.7 453.3,688 454,677.5 454.5,666.6 455.2,685.5 456,708.8 456.4,699.4 457.6,671.1 458.8,652.3 459.2,644 460,652.6 460.7,660 461.2,692.9 462.1,750.2 463.2,722.4 463.6,712.6 464.8,717.9 465.8,729.7 467.2,749.5 467.9,756.9 468.4,750.4 469.6,722.1 470.4,699.9 470.8,706.3 472,726.4 473.2,670.4 474.1,638.3 474.4,628.8 475.6,595.9 476.1,582 476.8,597.9 477.8,618.5 478.2,628.4 479.2,658.4 480.4,669.9 481.6,717.7 482.3,748.6 482.8,749.3 483.7,743.8 484.4,764.6 485.2,777.1 486.4,789.8 487.4,792 488.8,691.2 489.5,644.7 490,628.5 491.2,607.6 491.5,606.2 492.4,602.9 493.2,607.3 493.6,612.2 494.8,633 496,690.8 496.7,724.9 497.2,732.8 498.4,737.2 498.7,734.5 499.6,716.1 500.8,672.8 501.2,655.2 502,641 503.2,628 504.1,639.2 504.5,648.1 505.6,677.5 505.9,687.2 506.8,731.4 507.4,759.3 508,746.2 509,721.9 510.4,745.6 511.5,750.8 512.8,727 514,702.8 515.2,678.3 516.4,679.7 516.8,680 517.6,670.8 518.8,658.4 519.3,655 520,654.5 520.6,655.2 521.2,656 522.4,670.1 523.4,683.2 524.8,710.1 525.4,722.2 526,719.5 527.2,711.1 528.4,702.6 529.6,693.3 530,690.5 530.8,709.1 531.6,726 532,713.5 533.2,671.6 533.7,654.7 534.4,673.4 535.6,704.1 536.8,692.7 537.8,680.5 539.2,702.5 540.2,718.5 541.6,693.7 542.3,681.2 542.6,686.1 544,713.1 545.2,735.8 545.6,742.5 546.4,725.6 547.6,702 548,694 548.8,702 550,714.4 551.2,720.4 552.2,723.6 553.6,672.1 554.8,647 555.9,625.7 557.2,655.8 557.9,672.2 558.4,673.1 559.4,675.5 560.8,709.5 561.4,724.3 562,705.4 562.4,689.1 563.2,703 564.4,724.5 565.5,746.6 566.8,734.2 568,721.8 569.2,716.2 570.4,710.3 571.6,687.3 572.3,669.8 572.8,662.2 574,647.6 574.8,638.9 575.2,643.5 576.4,660.9 576.8,666.3 577.6,662.9 578.8,659.2 580,687 580.9,709.1 582.4,691.4 583.6,693.5 584.6,700.1 586,738.1 587.2,726.2 588.4,711.4 588.8,707.5 589.6,714.2 590.8,722.5 592,683.1 593.2,644.2 594.4,651.3 595.3,659 596.8,674.7 597.4,681 598,686.7 599.2,699.5 600.4,701.9 601.6,703.4 602.1,704.4 602.8,707 604,711.2 604.5,713.6 605.2,706.5 606.2,694.8 607.2,752 607.6,736.3 608.6,692.1 610,719 611.2,687.9 612.3,642.5 613.6,664.7 614,671 614.8,663.2 615.4,656.4 616,664.6 617.2,682.4 618.4,689.8 619.5,693.9 620.8,733.4 621.2,744.9 622,729.9 623.2,707.2 623.6,698.5 624.4,709.7 625.6,727.7 626.8,715.2 627.8,701.6 629.2,694.5 629.8,692.1 630.4,682.3 631.6,661.9 632.5,647.2 632.8,648.5 633.9,654 635.2,650.5 636.4,686.1 637.6,668 638,659.1 638.8,673.6 640,694.5 641.2,715.1 642.1,732.4 643.6,714.6 644.8,723.6 645.6,733.8 646,730.4 647.2,718.1 647.7,713.3 648.4,702.4 649.6,685.8 650.4,677 650.8,693.4 651.8,725.7 653.2,683.5 653.9,661.6 654.4,646.8 655.6,650 656.5,654.1 658,655.9 659.2,701.8 659.6,716.2 660.4,711.5 661.6,705.6 662.8,706.9 664,708.4 664.5,709.4 665.2,717.2 666.4,738.4 666.8,745.8 667.6,743.6 668.8,738.6 670,726.9 671.2,710.1 671.5,703.6 672.4,685.5 673.6,659.1 674.8,636 675.6,622.1 676,631.6 677.2,671.4 677.7,690.2 678.4,677.9 679.6,658.5 680.8,691.4 681.8,720.4 683.2,719.7 684.3,720.8 685.6,714.6 686.3,711 686.8,717.8 687.8,730.4 688.4,737.1 689.2,736.2 690.4,735 691.6,722.9 692.8,711.7 693.5,705 694,698.7 695,686.8 695.6,679.4 696.4,660.2 697.6,630.2 698.8,627.9 699.7,627.7 700,637.7 700.5,652.1 701.1,672 702.4,707.7 702.8,719.6 703.6,724.2 704.8,725 705.5,736.5 706,743 706.5,746.5 707.2,748.7 707.9,749.2 708.4,751.3 709.6,759.2 710,763 710.8,729.3 712,682.5 713.2,681 714.1,681.8 714.4,675.2 715.6,653.5 716.1,643.9 716.8,672.6 717.6,706.9 718,699.2 719.2,673.5 720.4,677.2 721.3,680.1 721.6,682.8 722.8,687.7 723.3,688.9 724,699.4 725,714.9 725.8,728.6 726.4,726 727.6,720.2 728.8,717.1 729.5,714.6 730,722.3 731.1,741.4 732.2,724.9 733.2,708.1 733.6,706.9 734.8,708.8 735.2,709.7 736,696.5 736.7,685 737.2,675.1 738.4,650.8" fill="none" stroke="#cf1e10" stroke-width="2.4" stroke-linejoin="round" stroke-linecap="round" clip-path="url(#clipb1)"/>
<polyline points="107.2,699.2 108.1,701.4 108.4,702.1 109.5,704.2 110.8,706 112,707.2 113.2,707.9 113.6,708.1 114.4,708.3 115.3,708.4 115.6,708.4 116.8,707.1 118,703.9 118.4,702.7 119.2,699.6 119.8,697.1 120.4,694.6 121.4,690.4 122.5,686.5 122.8,685.5 124,682.4 124.5,681.7 125.2,681.3 126.4,682.1 127.6,684.3 128.6,687 130,691.2 131.2,695.1 132.1,697.9 133.6,701.5 134.8,703.3 135.4,703.7 136,703.7 137.2,703.2 138.4,702.2 139.5,700.9 140.8,699.3 142,697.8 143.2,696.3 143.6,695.8 144.4,695.1 145.6,694.3 146.4,694 146.8,693.9 148,693.8 148.6,693.7 149.2,693.6 150.4,693.5 151.6,693.3 152.7,693.2 154,693.1 154.3,693.1 155.2,693 156.4,693 156.8,693 157.6,692.9 158.8,692.9 160,692.9 160.9,693.6 161.5,694.8 162.4,696.9 163.6,699.7 164.8,701.4 165.2,701.3 166,699.8 167.2,694.8 167.7,692.4 168.4,688.8 169.6,684.3 170.4,683.2 170.8,683.4 172,686.3 172.4,687.8 173.2,691.1 174.4,696 175.6,699.3 176.2,699.8 176.8,699.7 178,699.2 179,698.5 180.4,697.3 181.6,696.5 182.8,696 183.1,696 184,696 185.2,696 186.4,696 187.2,696.1 187.6,696.1 188.8,696.1 189.7,696.2 190,696.2 191.2,696.3 192.4,696.3 193,696.4 193.6,696.4 194.4,696.5 194.8,696.5 196,696.6 196.5,696.7 197.2,696.8 198.4,697 199.1,697.3 199.6,697.4 200.6,697.8 202,698.3 202.6,698.4 203.2,698.6 204.3,698.7 205.6,698.5 206.8,698.1 208,697.2 208.8,696.5 209.2,696.1 210.3,694.8 210.9,692.9 211.6,687.4 212.8,674.7 213.3,668.9 214,662.3 215.2,656.1 215.6,656.8 216.4,665.3 217.6,689.3 218.1,699.9 218.8,717.1 220,737.4 220.7,741.3 221.2,740.7 222.2,736.7 223.6,725.4 224.2,719.2 224.8,713.1 226,700.3 227.2,688.8 228.3,680.9 229.6,677.4 230.4,678.2 230.8,679.2 232,683.9 233.2,690.2 234.4,696.8 235.5,702.2 236.8,705.9 237.4,706.4 238,706 239,704 240.4,699.2 241.6,694 242.7,688.9 244,683.8 244.8,681.4 245.2,680.4 246.3,679.3 247.6,684 248.5,690.9 248.8,693.9 250,705.1 251.2,713.7 252.1,716.1 252.4,715.9 253.4,713.4 254.8,705.8 256,696.9 257.2,686.9 258.1,679.3 259.6,669.2 260.8,663.5 261.8,661.9 262.9,667.5 263.2,671.3 264.3,686.8 265.6,706.1 266.4,714.3 266.8,717.1 267.2,718 267.8,717.1 269.2,710 270.4,701.3 271.6,693.3 271.9,691.7 272.8,689.1 273.7,689.5 274,690 275.2,693 275.8,694.6 276.4,696.4 277.6,698.5 278,698.7 278.8,698.5 279.9,697.7 281.2,696.4 282.4,695.4 283.4,694.9 283.8,694.8 284.8,694.8 285.4,694.8 286,694.8 287.2,694.8 288.4,694.8 289.5,694.8 290.8,694.9 291.6,694.9 292,694.9 293.2,694.9 294,694.9 294.4,694.9 295.6,695 296.8,695.1 298,695.2 299.2,695.4 300.4,695.7 300.8,695.8 301.6,695.9 302.8,696.2 303.3,696.3 304,696.5 305.2,696.7 306.4,697 307.6,697.3 308,697.4 308.8,697.6 309.5,697.7 310,697.8 311.2,698.1 312.4,698.3 312.8,698.3 313.6,698.4 314.8,698.5 315.2,698.6 316,698.6 316.8,698.6 317.2,698.6 317.7,698.5 318.4,698.3 319.6,697.8 320.4,697.3 320.8,697.1 322,696.3 323,695.6 324.4,694.7 325.5,694.1 326.8,693.7 327.6,693.6 328,693.6 329.2,693.9 330.4,694.5 331.6,695.3 332.7,696.2 334,697.1 334.8,697.6 335.2,697.9 336.4,698.4 336.8,698.5 337.5,698.6 338.8,698.6 340,698.5 340.9,698.4 342.4,698.1 343.6,697.9 344.8,697.6 345.6,697.4 346,697.3 347.1,697.1 348.4,696.8 349.6,696.5 350.8,696.2 351.6,696 352,695.9 353.2,695.7 354.4,695.5 355.6,695.4 356.8,695.3 357.1,695.3 358,695.3 358.8,695.2 359.2,695.2 360,695.2 360.4,695.2 361.6,695.2 362.1,695.1 362.8,695.1 364,695.1 365.2,695.1 365.6,695.1 366.4,695 367.6,695 368.7,695 370,695 370.7,695 371.2,695 372.4,694.9 372.8,694.9 373.6,694.9 374.8,694.9 376,694.9 377.2,694.9 378.4,694.9 378.8,694.9 379.6,694.9 380,694.9 380.8,694.9 382,695 382.6,695 383.2,695 384.4,695.1 385.1,695.1 385.6,695.1 386.8,695.2 387.6,695.3 388,695.3 389.2,695.4 390.2,695.5 391.6,695.6 392.3,695.7 392.8,695.7 394,695.8 395,695.9 396.4,696.1 397,696.1 397.6,696.2 398.8,696.3 400,696.4 400.6,696.4 401.1,696.4 402.4,696.5 403.6,696.7 404.8,696.8 405.7,696.9 406,696.9 407.2,697 408.4,697.1 409.6,697.2 410.8,697.4 411.8,697.5 413.2,697.6 413.9,697.6 414.4,697.7 415.5,697.7 416.8,697.8 418,697.9 418.4,697.9 419.2,697.9 420.2,697.9 421.1,697.9 421.6,697.8 422.8,697.6 423.1,697.6 424,697.3 425.2,697 426.4,696.6 427.6,696.2 428.8,695.7 429.3,695.5 430,695.3 431.1,694.9 432,694.6 432.4,694.4 433.6,693.8 434.4,693.4 434.8,693.2 436,692.5 437.2,691.9 438.4,691.3 439.6,690.8 440.1,690.7 440.8,690.5 442,690.4 443.2,693.5 444.4,701.1 444.9,704.7 445.6,710.4 446.3,715.6 446.8,718.7 447.7,722.7 448.3,723.4 449,720.1 450.4,698.6 451.6,675.7 452.8,660 453.3,658.2 454,660 454.5,663.5 455.2,669.8 456,678.5 456.4,683.8 457.6,697.4 458.8,705.9 459.2,706.9 460,706.9 460.7,706.9 461.2,706.9 462.1,706.9 463.2,706.9 463.6,707.5 464.8,714.9 465.8,724.5 467.2,734.9 467.9,736.7 468.4,735 469.6,720.1 470.4,705.5 470.8,695.9 472,670 473.2,650.3 474.1,644.2 474.4,644 475.6,644.7 476.1,645.2 476.8,646.1 477.8,647.8 478.2,648.7 479.2,658.9 480.4,687.3 481.6,723 482.3,742.5 482.8,755.6 483.7,771.9 484.4,776 485.2,770.3 486.4,744.7 487.4,713 488.8,666.5 489.5,646.2 490,632.7 491.2,614.9 491.5,614.1 492.4,620.1 493.2,633 493.6,642.6 494.8,674.6 496,708.2 496.7,724.5 497.2,735.6 498.4,749 498.7,749.1 499.6,738.9 500.8,707.3 501.2,694.8 502,668.8 503.2,638.4 504.1,629.9 504.5,631.1 505.6,646.2 505.9,652.7 506.8,674.7 507.4,689.6 508,706.8 509,729.4 510.4,743.8 511.5,742 512.8,735.2 514,726.3 515.2,716.2 516.4,705.1 516.8,701.6 517.6,695.3 518.8,687.6 519.3,685.3 520,683.1 520.6,682.5 521.2,682.6 522.4,683.5 523.4,684.7 524.8,686.8 525.4,687.9 526,688.9 527.2,691 528.4,692.7 529.6,694 530,694.3 530.8,694.8 531.6,695.2 532,695.5 533.2,696.1 533.7,696.3 534.4,696.7 535.6,697.3 536.8,697.8 537.8,698.1 539.2,698.6 540.2,698.8 541.6,699 542.3,699 542.6,699 544,698.9 545.2,698.8 545.6,698.7 546.4,698.6 547.6,698.3 548,698.2 548.8,698 550,697.6 551.2,697.3 552.2,697 553.6,696.5 554.8,696.2 555.9,695.9 557.2,695.6 557.9,695.5 558.4,695.4 559.4,695.3 560.8,695.2 561.4,695.2 562,695.2 562.4,695.2 563.2,695.2 564.4,695.2 565.5,695.2 566.8,695.2 568,695.2 569.2,695.2 570.4,695.2 571.6,695.2 572.3,695.2 572.8,695.2 574,695.2 574.8,695.2 575.2,695.3 576.4,695.3 576.8,695.3 577.6,695.3 578.8,695.3 580,695.3 580.9,695.3 582.4,695.3 583.6,695.3 584.6,695.3 586,695.3 587.2,695.4 588.4,695.4 588.8,695.4 589.6,695.4 590.8,695.4 592,695.4 593.2,695.4 594.4,695.4 595.3,695.4 596.8,695.5 597.4,695.5 598,695.5 599.2,695.5 600.4,695.5 601.6,695.5 602.1,695.5 602.8,695.5 604,695.6 604.5,695.6 605.2,695.6 606.2,695.6 607.2,695.6 607.6,695.6 608.6,695.6 610,695.6 611.2,695.6 612.3,695.7 613.6,695.7 614,695.7 614.8,695.7 615.4,695.7 616,695.7 617.2,695.7 618.4,695.7 619.5,695.8 620.8,695.8 621.2,695.8 622,695.8 623.2,695.8 623.6,695.8 624.4,695.8 625.6,695.8 626.8,695.8 627.8,695.8 629.2,695.9 629.8,695.9 630.4,695.9 631.6,695.9 632.5,695.9 632.8,695.9 633.9,695.9 635.2,695.9 636.4,695.9 637.6,695.9 638,695.9 638.8,695.9 640,696 641.2,696 642.1,696 643.6,696 644.8,696 645.6,696 646,696 647.2,696 647.7,696 648.4,696 649.6,696 650.4,696 650.8,696 651.8,696 653.2,696 653.9,696 654.4,696 655.6,695.9 656.5,695.9 658,695.7 659.2,695.6 659.6,695.6 660.4,695.5 661.6,695.3 662.8,695.3 664,695.2 664.5,695.2 665.2,696 666.4,699.9 666.8,701.6 667.6,705.3 668.8,710 670,712.1 671.2,708 671.5,705.8 672.4,698.4 673.6,686.9 674.8,677.6 675.6,674.3 676,674.1 677.2,678.9 677.7,682.6 678.4,688.5 679.6,698.2 680.8,703.6 681.8,703.6 683.2,702.8 684.3,702 685.6,700.9 686.3,700.3 686.8,699.9 687.8,699.4 688.4,699.2 689.2,699 690.4,698.7 691.6,698.5 692.8,698.2 693.5,698 694,697.8 695,697.3 695.6,696.4 696.4,693.5 697.6,687.2 698.8,680.8 699.7,677.4 700,676.7 700.5,676.2 701.1,678.5 702.4,693.3 702.8,699 703.6,712 704.8,726.3 705.5,729.1 706,728.3 706.5,726.1 707.2,720.7 707.9,713.6 708.4,708.1 709.6,694 710,689.9 710.8,682 712,675.6 713.2,676.4 714.1,679.1 714.4,680.4 715.6,685.8 716.1,688.3 716.8,691.2 717.6,693.8 718,694.9 719.2,696.7 720.4,698.3 721.3,699.3 721.6,699.7 722.8,700.7 723.3,701.1 724,701.4 725,701.6 725.8,701.5 726.4,701.3 727.6,700.7 728.8,699.8 729.5,699.2 730,698.8 731.1,698 732.2,697.3 733.2,696.8 733.6,696.5 734.8,695.9 735.2,695.7 736,695.3 736.7,694.9 737.2,694.7 738.4,694.1" fill="none" stroke="#000" stroke-width="4.5" stroke-linejoin="round" stroke-linecap="round" clip-path="url(#clipb1)"/>
<line x1="476.6" y1="614.1" x2="478.9" y2="644" stroke="#7a7a7a" stroke-width="1.3" stroke-linecap="butt"/>
<rect x="197.2" y="613" width="100.5" height="167.3" rx="34" ry="39" fill="none" stroke="#c8c8c8" stroke-width="4"/>
<rect x="435.8" y="612.2" width="100.1" height="166.6" rx="33" ry="38" fill="none" stroke="#c8c8c8" stroke-width="4"/>
<line x1="107" y1="610" x2="107" y2="781.8" stroke="#000" stroke-width="2.6" stroke-linecap="butt"/>
<line x1="105.7" y1="780.5" x2="740" y2="780.5" stroke="#000" stroke-width="2.6" stroke-linecap="butt"/>
<line x1="107" y1="625" x2="114.5" y2="625" stroke="#000" stroke-width="2.6" stroke-linecap="butt"/>
<line x1="107" y1="766.5" x2="114.5" y2="766.5" stroke="#000" stroke-width="2.6" stroke-linecap="butt"/>
<line x1="107" y1="695.8" x2="114.5" y2="695.8" stroke="#000" stroke-width="2.6" stroke-linecap="butt"/>
<line x1="233.5" y1="773.5" x2="233.5" y2="780.5" stroke="#000" stroke-width="2.6" stroke-linecap="butt"/>
<line x1="359.5" y1="773.5" x2="359.5" y2="780.5" stroke="#000" stroke-width="2.6" stroke-linecap="butt"/>
<line x1="486" y1="773.5" x2="486" y2="780.5" stroke="#000" stroke-width="2.6" stroke-linecap="butt"/>
<line x1="612.5" y1="773.5" x2="612.5" y2="780.5" stroke="#000" stroke-width="2.6" stroke-linecap="butt"/>
<line x1="739" y1="773.5" x2="739" y2="780.5" stroke="#000" stroke-width="2.6" stroke-linecap="butt"/>
<text x="61.5" y="631.8" font-size="28" text-anchor="start" font-weight="normal" font-family='"Liberation Sans", Arial, Helvetica, sans-serif' fill="#000">0.5</text>
<text x="77.6" y="698.6" font-size="28" text-anchor="start" font-weight="normal" font-family='"Liberation Sans", Arial, Helvetica, sans-serif' fill="#000">0</text>
<text x="52.1" y="772.7" font-size="28" text-anchor="start" font-weight="normal" font-family='"Liberation Sans", Arial, Helvetica, sans-serif' fill="#000">-0.5</text>
<text x="108.9" y="596.6" font-size="22.3" text-anchor="start" font-weight="200" font-family='"DejaVu Sans", sans-serif' fill="#000">×</text>
<text x="127.1" y="595.9" font-size="27.7" text-anchor="start" font-weight="normal" font-family='"Liberation Sans", Arial, Helvetica, sans-serif' fill="#000">10</text>
<text x="155.9" y="579.6" font-size="27.7" text-anchor="start" font-weight="normal" font-family='"Liberation Sans", Arial, Helvetica, sans-serif' fill="#000">-</text>
<text x="165.8" y="579.6" font-size="27.7" text-anchor="start" font-weight="normal" font-family='"Liberation Sans", Arial, Helvetica, sans-serif' fill="#000">3</text>
<polyline points="107.2,932.4 108.1,882.4 108.4,880.6 109.5,873.7 110.8,886.9 112,878.6 113.2,871.9 113.6,870.1 114.4,894.4 115.3,922.2 115.6,929.7 116.8,956.7 118,930.9 118.4,920 119.2,934.9 119.8,946.4 120.4,944.2 121.4,941.3 122.5,953.1 122.8,951.5 124,944.7 124.5,942.5 125.2,931.2 126.4,908.4 127.6,889.6 128.6,875.9 130,903.4 131.2,902.1 132.1,899.3 133.6,930.3 134.8,925.7 135.4,921.3 136,926.7 137.2,937.1 138.4,936.4 139.5,933.2 140.8,942.9 142,954 143.2,958.5 143.6,960.5 144.4,945.2 145.6,921.4 146.4,904.1 146.8,896.4 148,872.2 148.6,860.4 149.2,869.6 150.4,888.6 151.6,890.8 152.7,887.6 154,910.6 154.3,917.7 155.2,923.4 156.4,929.7 156.8,931.3 157.6,938.6 158.8,949.8 160,944.6 160.9,940 161.5,976.2 162.4,962.9 163.6,942.7 164.8,951.7 165.2,954.8 166,938.4 167.2,913.2 167.7,902.3 168.4,900.3 169.6,896.6 170.4,892.6 170.8,888 172,877.5 172.4,872.8 173.2,888.4 174.4,910.4 175.6,916.4 176.2,918.7 176.8,921.2 178,932.7 179,941.9 180.4,969.3 181.6,966.1 182.8,955.4 183.1,953.1 184,955.5 185.2,960.1 186.4,945.1 187.2,934.3 187.6,924.1 188.8,894.5 189.7,875.3 190,876 191.2,872.4 192.4,863 193,858.2 193.6,873.5 194.4,891.1 194.8,898.1 196,919.2 196.5,927.8 197.2,926 198.4,922.6 199.1,920.2 199.6,923 200.6,923.9 202,937.6 202.6,944.6 203.2,952 204.3,968.9 205.6,949 206.8,983.9 208,949.6 208.8,927.3 209.2,926.8 210.3,927.1 210.9,926.8 211.6,890.4 212.8,918.5 213.3,941.4 214,917.9 215.2,879 215.6,866.3 216.4,876.6 217.6,893.8 218.1,901 218.8,902.8 220,904.4 220.7,914.7 221.2,923.7 222.2,941.5 223.6,967.9 224.2,978.2 224.8,972.8 226,967.5 227.2,972.2 228.3,977.9 229.6,941.9 230.4,918.9 230.8,913.1 232,898.7 233.2,884.8 234.4,879.6 235.5,877.1 236.8,904.2 237.4,916.4 238,915 239,899.2 240.4,924.7 241.6,927.4 242.7,924.1 244,944.9 244.8,957.7 245.2,949.7 246.3,927.7 247.6,959.3 248.5,983.7 248.8,974.9 250,946.5 251.2,919.1 252.1,908 252.4,905.6 253.4,897.2 254.8,886.5 256,878.1 257.2,898.2 258.1,915.9 259.6,897.2 260.8,907.1 261.8,914.1 262.9,921.9 263.2,933 264.3,967.7 265.6,963.3 266.4,960.1 266.8,953.2 267.2,947.1 267.8,936.4 269.2,956.6 270.4,933.8 271.6,902 271.9,895 272.8,885.9 273.7,877.8 274,884 275.2,905.7 275.8,916.5 276.4,909.1 277.6,896.2 278,891.9 278.8,906.4 279.9,936 281.2,911.7 282.4,934.3 283.4,954.9 283.8,955 284.8,954 285.4,953 286,959.2 287.2,974.5 288.4,956.5 289.5,930.5 290.8,913.1 291.6,902.1 292,898.9 293.2,890.5 294,885.5 294.4,885.3 295.6,893.1 296.8,901.3 298,909.8 299.2,918.3 300.4,926 300.8,928 301.6,937.5 302.8,950.8 303.3,957.6 304,951.8 305.2,939.5 306.4,923.9 307.6,907.9 308,900.3 308.8,922.8 309.5,942.3 310,932.2 311.2,906.7 312.4,879.5 312.8,872.1 313.6,889.2 314.8,910.4 315.2,917.5 316,918.4 316.8,919.3 317.2,921.2 317.7,922.9 318.4,936.2 319.6,958.2 320.4,971.3 320.8,968.4 322,960.2 323,949.6 324.4,941.9 325.5,936.9 326.8,916.7 327.6,905.2 328,897.7 329.2,878.1 330.4,859.2 331.6,878.2 332.7,903.3 334,899.4 334.8,895.8 335.2,901.4 336.4,921.2 336.8,927.9 337.5,932.1 338.8,937.8 340,960.8 340.9,979.7 342.4,954.9 343.6,934.6 344.8,945.8 345.6,954.6 346,950.2 347.1,937.6 348.4,895.7 349.6,860.2 350.8,877.8 351.6,892.9 352,889.4 353.2,882.8 354.4,925 355.6,928.4 356.8,918.4 357.1,915 358,908.8 358.8,905.9 359.2,924 360,959.2 360.4,955.1 361.6,942.4 362.1,935.8 362.8,943.4 364,956.8 365.2,915.5 365.6,899.3 366.4,910.8 367.6,928.8 368.7,903.7 370,916.4 370.7,921.1 371.2,917.8 372.4,915.6 372.8,915.2 373.6,924.4 374.8,937.6 376,949.4 377.2,960.4 378.4,938.6 378.8,931.2 379.6,916.7 380,911 380.8,911.2 382,911.1 382.6,911.7 383.2,910.4 384.4,907.8 385.1,906.1 385.6,901.6 386.8,892.9 387.6,885.6 388,888.1 389.2,898.9 390.2,908.4 391.6,927.5 392.3,937.7 392.8,943.4 394,954.2 395,964.8 396.4,945 397,936.3 397.6,942.7 398.8,957.9 400,935.5 400.6,918.4 401.1,900.7 402.4,913 403.6,924.8 404.8,901.5 405.7,885.1 406,884.7 407.2,879.4 408.4,894.4 409.6,911.2 410.8,913.5 411.8,912.7 413.2,925.1 413.9,932.4 414.4,938 415.5,950.3 416.8,948.8 418,949.2 418.4,949.4 419.2,939 420.2,926.4 421.1,916.9 421.6,910.6 422.8,898.5 423.1,895.1 424,901.4 425.2,911.8 426.4,934 427.6,923 428.8,903.7 429.3,895.5 430,911.9 431.1,938.6 432,958.9 432.4,954.9 433.6,942.5 434.4,934.3 434.8,927.9 436,911.2 437.2,894.2 438.4,876.7 439.6,859.6 440.1,852.2 440.8,866.8 442,892.1 443.2,929 444.4,901.8 444.9,890.3 445.6,920.1 446.3,949.8 446.8,952 447.7,954.4 448.3,939.1 449,921.5 450.4,965.2 451.6,946 452.8,948.8 453.3,953 454,940.6 454.5,926.1 455.2,938.8 456,953.5 456.4,938.8 457.6,896.5 458.8,869.1 459.2,859.7 460,868.4 460.7,875.8 461.2,909 462.1,966.6 463.2,938.6 463.6,928.1 464.8,926.1 465.8,928.3 467.2,937.7 467.9,943.3 468.4,938.5 469.6,925.1 470.4,917.3 470.8,933.5 472,979.7 473.2,943.3 474.1,917.1 474.4,907.7 475.6,873.9 476.1,859.4 476.8,874.5 477.8,893.6 478.2,902.6 479.2,922.5 480.4,905.5 481.6,917.7 482.3,929.1 482.8,916.7 483.7,894.8 484.4,911.5 485.2,929.8 486.4,968.3 487.4,1002.5 488.8,947.8 489.5,921.4 490,918.7 491.2,915.6 491.5,915.1 492.4,905.8 493.2,897.1 493.6,892.5 494.8,881.1 496,905.5 496.7,923.4 497.2,920.1 498.4,911.2 498.7,908.3 499.6,900.1 500.8,888.3 501.2,883.1 502,895 503.2,912.5 504.1,932.4 504.5,940.2 505.6,954.5 505.9,957.7 506.8,980 507.4,993.2 508,962.6 509,915.5 510.4,924.8 511.5,931.9 512.8,914.7 514,899.4 515.2,884.8 516.4,897.4 516.8,901.3 517.6,898.4 518.8,893.7 519.3,892.5 520,894.2 520.6,895.6 521.2,896.2 522.4,909.5 523.4,921.6 524.8,946.4 525.4,957.5 526,953.7 527.2,943.3 528.4,932.9 529.6,922.2 530,919.2 530.8,937.4 531.6,954 532,941.2 533.2,898.3 533.7,881.1 534.4,899.6 535.6,929.9 536.8,917.9 537.8,905.2 539.2,927 540.2,942.8 541.6,917.7 542.3,905 542.6,910 544,937.2 545.2,960.3 545.6,967.1 546.4,950.2 547.6,926.7 548,918.8 548.8,927 550,939.9 551.2,946.3 552.2,949.8 553.6,898.4 554.8,873.5 555.9,852.4 557.2,883 557.9,899.6 558.4,900.5 559.4,903.1 560.8,937.4 561.4,952.2 562,933.2 562.4,916.9 563.2,930.8 564.4,952.5 565.5,974.7 566.8,962.3 568,949.7 569.2,944.2 570.4,938.2 571.6,915 572.3,897.4 572.8,889.8 574,875 574.8,866.3 575.2,871 576.4,888.4 576.8,893.9 577.6,890.4 578.8,886.7 580,914.6 580.9,936.9 582.4,919.1 583.6,921.1 584.6,927.7 586,966 587.2,954 588.4,939.2 588.8,935.2 589.6,941.9 590.8,950.3 592,910.6 593.2,871.5 594.4,878.6 595.3,886.3 596.8,902.1 597.4,908.5 598,914.2 599.2,927 600.4,929.5 601.6,930.9 602.1,931.9 602.8,934.5 604,938.7 604.5,941.1 605.2,934 606.2,922.2 607.2,979.8 607.6,964 608.6,919.4 610,946.5 611.2,915.2 612.3,869.5 613.6,891.9 614,898.1 614.8,890.3 615.4,883.4 616,891.7 617.2,909.6 618.4,917 619.5,921.1 620.8,960.9 621.2,972.4 622,957.3 623.2,934.4 623.6,925.7 624.4,936.9 625.6,955.1 626.8,942.4 627.8,928.8 629.2,921.7 629.8,919.2 630.4,909.3 631.6,888.8 632.5,874.1 632.8,875.3 633.9,880.9 635.2,877.3 636.4,913.1 637.6,894.9 638,885.9 638.8,900.5 640,921.5 641.2,942.3 642.1,959.7 643.6,941.8 644.8,950.8 645.6,961 646,957.6 647.2,945.2 647.7,940.4 648.4,929.4 649.6,912.7 650.4,903.9 650.8,920.4 651.8,952.9 653.2,910.4 653.9,888.4 654.4,873.5 655.6,876.8 656.5,881 658,882.9 659.2,929.2 659.6,943.8 660.4,939.1 661.6,933.3 662.8,934.7 664,936.2 664.5,937.3 665.2,944.3 666.4,961.8 666.8,967.5 667.6,961.6 668.8,951.8 670,937.9 671.2,925.1 671.5,920.9 672.4,910.1 673.6,895 674.8,881.2 675.6,870.4 676,880.2 677.2,915.4 677.7,930.7 678.4,912.3 679.6,883 680.8,910.8 681.8,939.9 683.2,940 684.3,942 685.6,936.8 686.3,933.7 686.8,941 687.8,954.2 688.4,961.1 689.2,960.5 690.4,959.5 691.6,947.6 692.8,936.6 693.5,930.1 694,924 695,912.4 695.6,906 696.4,889.6 697.6,865.7 698.8,869.7 699.7,873 700,883.8 700.5,898.7 701.1,916.5 702.4,937.4 702.8,943.8 703.6,935.3 704.8,921.7 705.5,930.5 706,937.8 706.5,943.5 707.2,951.2 707.9,958.8 708.4,966.4 709.6,988.6 710,996.5 710.8,970.6 712,929.9 713.2,927.6 714.1,925.8 714.4,917.8 715.6,890.5 716.1,878.3 716.8,904.3 717.6,936.1 718,927.3 719.2,899.7 720.4,901.7 721.3,903.7 721.6,906 722.8,909.9 723.3,910.8 724,920.9 725,936.4 725.8,950.3 726.4,947.8 727.6,942.6 728.8,940.4 729.5,938.5 730,946.6 731.1,966.7 732.2,950.7 733.2,934.4 733.6,933.4 734.8,935.9 735.2,937.1 736,924.2 736.7,913 737.2,903.3 738.4,879.5" fill="none" stroke="#a02522" stroke-width="2.5" stroke-linejoin="round" stroke-linecap="round" clip-path="url(#clipb2)"/>
<rect x="197.2" y="839.9" width="99.8" height="166.5" rx="34" ry="39" fill="none" stroke="#c8c8c8" stroke-width="4"/>
<rect x="435.8" y="838.3" width="100.1" height="167.3" rx="33" ry="38" fill="none" stroke="#c8c8c8" stroke-width="4"/>
<line x1="107" y1="837.4" x2="107" y2="1009" stroke="#000" stroke-width="2.6" stroke-linecap="butt"/>
<line x1="105.7" y1="1007.8" x2="740" y2="1007.8" stroke="#000" stroke-width="2.6" stroke-linecap="butt"/>
<line x1="107" y1="851.8" x2="114.5" y2="851.8" stroke="#000" stroke-width="2.6" stroke-linecap="butt"/>
<line x1="107" y1="994.2" x2="114.5" y2="994.2" stroke="#000" stroke-width="2.6" stroke-linecap="butt"/>
<line x1="107" y1="923" x2="114.5" y2="923" stroke="#000" stroke-width="2.6" stroke-linecap="butt"/>
<line x1="233.5" y1="1000.8" x2="233.5" y2="1007.8" stroke="#000" stroke-width="2.6" stroke-linecap="butt"/>
<line x1="359.5" y1="1000.8" x2="359.5" y2="1007.8" stroke="#000" stroke-width="2.6" stroke-linecap="butt"/>
<line x1="486" y1="1000.8" x2="486" y2="1007.8" stroke="#000" stroke-width="2.6" stroke-linecap="butt"/>
<line x1="612.5" y1="1000.8" x2="612.5" y2="1007.8" stroke="#000" stroke-width="2.6" stroke-linecap="butt"/>
<line x1="739" y1="1000.8" x2="739" y2="1007.8" stroke="#000" stroke-width="2.6" stroke-linecap="butt"/>
<text x="60.4" y="858.1" font-size="28" text-anchor="start" font-weight="normal" font-family='"Liberation Sans", Arial, Helvetica, sans-serif' fill="#000">0.5</text>
<text x="78.2" y="929" font-size="28" text-anchor="start" font-weight="normal" font-family='"Liberation Sans", Arial, Helvetica, sans-serif' fill="#000">0</text>
<text x="51" y="999" font-size="28" text-anchor="start" font-weight="normal" font-family='"Liberation Sans", Arial, Helvetica, sans-serif' fill="#000">-0.5</text>
<text x="109.5" y="832.9" font-size="21.2" text-anchor="start" font-weight="200" font-family='"DejaVu Sans", sans-serif' fill="#000">×</text>
<text x="127.3" y="832.3" font-size="23" text-anchor="start" font-weight="normal" font-family='"Liberation Sans", Arial, Helvetica, sans-serif' fill="#000" stroke="#fff" stroke-width="0.6">10</text>
<text x="153.4" y="817.5" font-size="16.5" text-anchor="start" font-weight="normal" font-family='"Liberation Sans", Arial, Helvetica, sans-serif' fill="#000" stroke="#fff" stroke-width="0.6">-</text>
<text x="157.5" y="817.5" font-size="16.5" text-anchor="start" font-weight="normal" font-family='"Liberation Sans", Arial, Helvetica, sans-serif' fill="#000" stroke="#fff" stroke-width="0.6">3</text>
<text x="80.9" y="1038" font-size="28" text-anchor="start" font-weight="normal" font-family='"Liberation Sans", Arial, Helvetica, sans-serif' fill="#000">100</text>
<text x="207.2" y="1038" font-size="28" text-anchor="start" font-weight="normal" font-family='"Liberation Sans", Arial, Helvetica, sans-serif' fill="#000">106.7</text>
<text x="332.1" y="1038" font-size="28" text-anchor="start" font-weight="normal" font-family='"Liberation Sans", Arial, Helvetica, sans-serif' fill="#000">113.3</text>
<text x="459.3" y="1038" font-size="28" text-anchor="start" font-weight="normal" font-family='"Liberation Sans", Arial, Helvetica, sans-serif' fill="#000">120</text>
<text x="586.1" y="1038" font-size="28" text-anchor="start" font-weight="normal" font-family='"Liberation Sans", Arial, Helvetica, sans-serif' fill="#000">126.7</text>
<text x="712.7" y="1038" font-size="28" text-anchor="start" font-weight="normal" font-family='"Liberation Sans", Arial, Helvetica, sans-serif' fill="#000">133.3</text>
<text x="383.7" y="1075.9" font-size="31.44" text-anchor="start" font-weight="normal" font-family='"Liberation Sans", Arial, Helvetica, sans-serif' fill="#000">Time (s)</text>
<line x1="244.8" y1="781" x2="246.4" y2="814.5" stroke="#c8c8c8" stroke-width="3.6" stroke-linecap="butt"/>
<polygon points="218,813.5 271.5,813.5 244.8,838.4" fill="#c8c8c8"/>
<line x1="489" y1="777" x2="489" y2="814.5" stroke="#c8c8c8" stroke-width="3.6" stroke-linecap="butt"/>
<polygon points="460,813.5 511.5,813.5 485.8,837.5" fill="#c8c8c8"/>
<rect x="271.5" y="826.3" width="42" height="43.2" fill="#e8e000"/>
<text transform="translate(285.5,862.8) scale(0.834,1)" x="-2.7" y="0" font-size="39.48" font-weight="bold" font-family='"DejaVu Sans", sans-serif' fill="#000">?</text>
<rect x="509" y="825" width="41.5" height="43.5" fill="#e8e000"/>
<text transform="translate(524.5,862.2) scale(0.832,1)" x="-2.7" y="0" font-size="39.88" font-weight="bold" font-family='"DejaVu Sans", sans-serif' fill="#000">?</text>
<rect x="618.6" y="812" width="206.8" height="45.2" fill="#fff" stroke="#000" stroke-width="2.2"/>
<line x1="634" y1="832.3" x2="681.2" y2="832.3" stroke="#a02522" stroke-width="2.5" stroke-linecap="butt"/>
<text x="702.4" y="847.5" font-size="33" text-anchor="start" font-weight="normal" font-family='"Liberation Sans", Arial, Helvetica, sans-serif' fill="#000">R</text>
<text x="726.1" y="851.1" font-size="31" text-anchor="start" font-weight="normal" font-family='"Liberation Sans", Arial, Helvetica, sans-serif' fill="#000">n</text>
<text x="750" y="847.5" font-size="33" text-anchor="start" font-weight="normal" font-family='"Liberation Sans", Arial, Helvetica, sans-serif' fill="#000">-</text>
<text x="769.6" y="847.5" font-size="33" text-anchor="start" font-weight="normal" font-family='"Liberation Sans", Arial, Helvetica, sans-serif' fill="#000">m</text>
<text x="795.4" y="853.3" font-size="31" text-anchor="start" font-weight="normal" font-family='"Liberation Sans", Arial, Helvetica, sans-serif' fill="#000">e</text>
<rect x="687.6" y="558.6" width="137.4" height="88.8" fill="#fff" stroke="#000" stroke-width="2.2"/>
<line x1="702.5" y1="582.3" x2="747.5" y2="582.3" stroke="#000" stroke-width="4.6" stroke-linecap="butt"/>
<line x1="702.5" y1="621.9" x2="747.5" y2="621.9" stroke="#cf1e10" stroke-width="2.5" stroke-linecap="butt"/>
<text x="760.8" y="588.9" font-size="32.5" text-anchor="start" font-weight="normal" font-family='"Liberation Sans", Arial, Helvetica, sans-serif' fill="#000">m</text>
<text x="786.5" y="594.9" font-size="31" text-anchor="start" font-weight="normal" font-family='"Liberation Sans", Arial, Helvetica, sans-serif' fill="#000">e</text>
<text x="765.1" y="636" font-size="32.5" text-anchor="start" font-weight="normal" font-family='"Liberation Sans", Arial, Helvetica, sans-serif' fill="#000">R</text>
<text x="788" y="640.5" font-size="31" text-anchor="start" font-weight="normal" font-family='"Liberation Sans", Arial, Helvetica, sans-serif' fill="#000">n</text>
<text x="-3" y="0" font-size="36.07" text-anchor="start" font-weight="normal" font-family='"Liberation Sans", Arial, Helvetica, sans-serif' fill="#000" transform="translate(31,971.4) rotate(-90)">Remote-PPG (AC/DC)</text>
<text x="284.2" y="582.8" font-size="42.5" text-anchor="start" font-weight="bold" font-family='"Liberation Sans", Arial, Helvetica, sans-serif' fill="#000">(b)</text>
<text x="345.4" y="582.8" font-size="35.8" text-anchor="start" font-weight="normal" font-family='"Liberation Sans", Arial, Helvetica, sans-serif' fill="#000">Subject 37</text>
<polyline points="104.3,1205.7 105,1236.4 106.3,1230.1 107.3,1239.2 108.3,1252.1 108.7,1258.3 109.3,1249.4 110.2,1234.6 111.3,1247.2 112.3,1254.4 113.3,1235.9 113.8,1218.9 114.3,1203.3 115.3,1175.1 116.3,1197.6 117,1217.1 117.3,1218.7 118.1,1220 119.2,1223.2 120.3,1275.8 121.3,1246.8 122,1219 123.3,1247.3 124.3,1236.7 125.2,1207.2 125.9,1176.9 126.3,1181.8 127.3,1192.4 128.3,1203.7 128.6,1212.2 129.3,1241.3 130.2,1268.9 131.3,1244.4 132.1,1225.5 133,1234.3 134.1,1271.1 135.3,1230.6 136.3,1220.9 136.9,1215.2 137.3,1212.6 138.3,1205.9 139.3,1199.7 139.6,1198.1 140.3,1225.6 140.9,1248.6 141.3,1243.4 142.3,1231.8 143.3,1221.7 143.7,1217.6 144.3,1244.6 144.8,1267.1 145.3,1246.9 145.9,1223.9 146.3,1214.2 147.2,1191 148.3,1215.1 148.7,1223.2 149.3,1220.8 150.3,1216.7 150.6,1214 151.3,1224.6 151.9,1233.8 152.3,1234.4 153.3,1238.4 154.3,1248.5 155,1255.7 156.3,1226.6 157.3,1202.4 157.8,1187.4 158.3,1192.2 159.3,1204.1 160.3,1213.9 161,1221.2 161.3,1229.2 162.3,1252.8 163.3,1244.8 164.1,1230.3 165.3,1232 165.7,1231.5 166.3,1218.9 167.3,1197.8 167.9,1186.3 168.3,1192.1 169.2,1205.6 170.3,1212.6 171.3,1219.1 172.3,1234.8 173.1,1249.9 174.3,1245.2 174.7,1243.1 175.3,1251.7 175.9,1259.3 176.3,1252.2 177.3,1235.9 177.8,1228.8 178.3,1216.9 179.3,1189.8 180.3,1209.4 180.9,1224.1 181.3,1226.4 182.3,1218.7 183,1204.3 183.3,1201.5 184.3,1204.3 184.9,1217.8 185.3,1226.2 186.3,1255.6 186.9,1274.7 187.3,1272.3 188.2,1255.7 189.3,1224.6 190.3,1210.9 191.3,1200 192.3,1206.3 192.9,1214.5 193.3,1220 194.3,1231.4 194.6,1235.2 195.3,1234.6 196.2,1235.5 197.3,1245.4 198.2,1254.7 199.3,1233 199.8,1222.4 200.3,1212.1 201.3,1190.3 202.3,1163.9 203.3,1187.2 204.1,1214.9 205.3,1220.5 205.6,1222.2 206.3,1239.9 207.3,1266.5 207.7,1276.2 208.3,1265 209.2,1246.4 210.3,1263 211.3,1274.8 212.3,1238.7 213.2,1205.8 214.3,1206.9 214.7,1206.6 215.3,1205.2 216.3,1203.1 216.9,1205.8 217.3,1207.6 217.9,1211.6 218.3,1211.7 219.3,1212.2 220.3,1222.4 221,1231.6 222.3,1240.7 223.3,1237.5 224.2,1231.2 225.3,1225.5 225.8,1223.3 226.3,1224 227.3,1227.1 228.3,1230.1 229.3,1229.7 229.7,1228.5 230.3,1236.4 231.3,1248 232.1,1255.4 233.3,1244 233.7,1241.3 234.3,1231.7 235.2,1218.9 236.2,1186.4 237.3,1153.9 237.9,1137.8 238.3,1151.1 239.3,1187.9 240.3,1227.9 240.7,1244.2 241.3,1252.9 242.3,1267.3 243.3,1281.9 243.9,1288.6 244.3,1287.3 245.3,1284.5 246.3,1282.1 246.7,1279.7 247.3,1242.8 248.3,1183.1 249.3,1185 249.8,1185.7 250.3,1183.6 250.9,1183 251.3,1183.7 252,1184.2 253.3,1210.2 254.3,1236.2 254.9,1250.7 255.3,1257.1 256.3,1269.3 257.3,1265.7 258,1260.9 258.7,1243.5 259.3,1227.1 260.3,1199.6 261.3,1195.4 262.3,1189.7 263.3,1206.2 264,1218.7 264.3,1223.1 265.3,1232.8 265.9,1238.3 266.3,1244.6 267.3,1259.4 268.2,1272.5 269.3,1255.1 269.8,1247.5 270.3,1245.3 271.3,1241.8 272.3,1214.9 273.3,1186.1 273.7,1174.7 274.3,1182.1 275.3,1194.8 276.3,1216.9 276.9,1230.1 277.3,1235.4 278.3,1240.1 279.3,1249.7 280.3,1261.5 280.8,1267 281.3,1256.4 282.3,1235.3 283.3,1214.4 284.3,1195 285,1180.2 286.3,1210.6 286.6,1216.9 287.3,1221.9 288.2,1227.9 289.3,1248.2 289.6,1253.4 290.2,1264.4 291.3,1244.9 291.8,1237.7 292.3,1235.2 292.9,1230.2 293.3,1237.5 294.2,1255.2 295.3,1238 295.7,1231.8 296.3,1229.4 297.3,1226.6 298.3,1228 298.9,1231.4 299.3,1239.9 300.3,1260.4 301.2,1262.1 302,1257.6 303.3,1270.1 304.3,1250.8 305.3,1221 306.3,1204.9 307,1196.9 307.3,1194.7 308.3,1183.6 309.3,1196.3 310.3,1209.1 310.7,1212.8 311.3,1218.8 312.3,1232.2 313,1241.2 314.3,1251 314.8,1255.4 315.3,1251.6 316.2,1245.1 316.9,1262.1 317.3,1256.8 318.3,1239.2 319.3,1213.5 320.3,1186.7 321.3,1192.7 322.3,1213.2 323.3,1226.5 324.3,1237.5 325.3,1248.8 326.3,1261.1 327.2,1269.7 328.3,1243.9 329.1,1224.9 330.3,1200.3 331.3,1186.5 332.3,1179.8 332.7,1178 333.3,1191.3 334.1,1207.4 334.7,1216.9 335.3,1221 336.3,1227.7 336.6,1229.9 337.3,1240.4 338.3,1255.4 339.3,1261.9 340,1264.8 340.3,1265.8 341.3,1252.6 342.3,1234.3 343.3,1219.5 344.3,1207.6 345.3,1197.5 345.7,1193.2 346.3,1201.3 347.3,1214.8 348.3,1217.9 349.2,1220 350.3,1263.3 350.8,1280.7 351.3,1271.8 352.3,1254.4 353.3,1236.2 354.3,1218.3 354.7,1212.5 355.3,1202.4 356.3,1185.2 357.3,1169.5 358.3,1189.7 359.1,1214.6 360.3,1233.6 360.7,1239 361.3,1250.1 361.8,1259.1 362.3,1260.8 363.3,1264.2 364.3,1249.9 364.9,1240.6 365.3,1237.8 366.3,1228.4 367.3,1210.7 368.1,1194.7 369.3,1201.8 369.6,1204.3 370.3,1219.4 370.8,1229.2 371.3,1233.6 372.3,1246.3 373.3,1239 373.9,1233 374.3,1233.3 375.3,1231 376.3,1244.3 376.7,1249.7 377.3,1238.1 378,1227.4 378.3,1220.5 379.3,1201.4 379.9,1191.3 380.3,1201 381.3,1223.4 382.3,1233 383,1239.9 384.3,1227.1 385.3,1247.9 386.1,1264.3 387.3,1246.8 387.7,1240.1 388.3,1235 389.3,1228 390.2,1204.4 391.3,1174 392.3,1192.4 393.2,1211.1 394.3,1221.2 394.8,1226.6 395.3,1234.4 396.3,1248.2 397.3,1243.4 397.9,1240.7 398.3,1244.3 399.3,1256.4 400.3,1250.7 401.1,1240.6 402.3,1223.1 402.6,1219.7 403.3,1225.7 404.2,1232.7 405.3,1219.9 406.3,1207.1 407.3,1205.7 407.8,1209.1 408.3,1208.3 409.3,1209.8 409.6,1209 410.3,1207.6 411.3,1207.9 412.3,1202.7 412.9,1202.6 413.3,1204.8 414.3,1202.5 415.3,1221.3 416,1235.3 417.3,1234.9 417.9,1235.1 418.3,1246.5 419.2,1268 420.3,1238.7 420.7,1227.9 421.3,1226.5 422.3,1225.3 423.3,1214.7 423.9,1210 424.3,1209.7 425.3,1205 426.3,1180.3 426.7,1171.2 427.3,1186.1 428.3,1209.3 429.3,1214.9 429.6,1216.5 430.2,1221 431.3,1245.4 431.7,1254.1 432.3,1255.2 433.3,1258.9 434.1,1260.4 435.3,1268.2 436.1,1274.7 437.2,1205.5 438.1,1198.3 439.3,1188.8 440.3,1190.1 441.2,1191.5 442.3,1246.7 442.7,1269.2 443.3,1260.4 444.3,1245 445.3,1236.3 445.9,1230.8 446.3,1237.4 447.3,1252.2 447.8,1259.2 448.3,1244.4 449.3,1216.3 450.3,1194.4 450.9,1182.2 451.3,1186 452.3,1195.8 453,1201.6 453.3,1203.2 454.3,1205.6 455,1216.5 455.3,1223.9 456.1,1242.2 457.3,1263.3 457.7,1270.1 458.3,1269.8 459.3,1265.6 459.7,1264.2 460.3,1251.8 461.3,1231.3 461.6,1226.5 462.3,1213.1 463.2,1193.8 464.3,1178.6 465.1,1167.5 466.3,1199 466.6,1208 467.3,1219.9 468.2,1236.1 469.3,1248.6 469.8,1253.6 470.3,1253.5 471.3,1255.3 471.8,1256.1 472.3,1260.2 472.9,1264.8 473.3,1255.1 474.3,1228.4 475,1211.7 475.3,1208.5 476.3,1200.5 477,1194.2 477.3,1196.5 478.3,1208.1 479.3,1218.2 479.7,1223.3 480.3,1229.7 481.3,1238.9 481.6,1241.8 482.3,1253.1 482.9,1263.3 483.3,1257.9 484.3,1244.5 484.6,1246 485.3,1256.7 485.7,1261.9 486.3,1245.9 487.3,1221.8 488.3,1200.3 488.8,1189.2 489.3,1191 490.3,1194.5 491.3,1212.1 492,1227.5 492.3,1230.3 493.3,1242.1 494.3,1261.4 494.6,1268.9 495.3,1255.9 496.2,1239.1 497.3,1245.8 497.8,1249.7 498.3,1239.7 499.3,1219.5 500.3,1206.3 501.3,1191.8 502.3,1197 503,1204.5 503.3,1210 504.3,1225.5 505.3,1236.8 505.8,1242.1 506.1,1244.5 507.2,1260 508.3,1253 508.8,1249.3 509.3,1254.2 509.9,1259 510.3,1248.5 511.3,1222.2 512.3,1200.5 513.3,1181.4 514.3,1192.6 515.1,1206.1 516.3,1244.9 516.6,1256.6 517.3,1247.2 518.2,1234.7 519.3,1245.5 519.8,1251.3 520.3,1247.8 520.6,1244.9 521.3,1237.1 522.3,1210.7 522.9,1193.5 523.3,1199.9 524.3,1218.2 525.3,1203.7 525.6,1196.2 526.3,1213.2 526.9,1226.5 527.3,1225.4 528.3,1221.7 529.3,1242.9 530,1261 531.3,1235.4 532.3,1243.1 533.2,1259.7 534.3,1247.1 534.7,1242.4 535.3,1225.2 536.3,1196 537.3,1206.5 537.9,1211.3 538.3,1215.5 539.3,1226.8 540.3,1235.8 541,1240 542.3,1250.9 543.3,1246.4 544.2,1239.1 545.3,1259.4 546.3,1225.7 547.3,1185.3 548.1,1198.8 548.9,1213.2 549.3,1211.1 550.3,1206.9 551.3,1249.3 552,1287.2 553.3,1236.1 554.3,1241.7 555.3,1261.8 556.3,1225.4 557.3,1179.4 557.9,1173.1 558.3,1177.2 559.1,1189.1 560.3,1216.7 560.7,1226.8 561.3,1247.5 562.1,1269.4 563.3,1243.9 564.3,1216.8 565.3,1259.4 565.9,1280.7 566.3,1267.3 567.2,1243.6 567.7,1230.3 568.3,1226.5 569.3,1220.4 570.3,1212.1 571.2,1203.2 572.3,1233.1 573.3,1235 574.3,1233.6 574.8,1233.2 575.3,1243.4 576.3,1268.5 577.3,1241 577.7,1228.5 578.3,1220.4 579.3,1221.1 580.3,1212.2 581.3,1200.2 581.9,1193.6 582.3,1199 582.8,1205.4 583.3,1212.7 584.3,1209.8 585,1206.5 586.3,1228.9 586.9,1239 587.3,1261.6 587.9,1293.4 588.3,1277 589.3,1237.2 589.6,1234.7 590.3,1250.3 591,1265.4 592.3,1226.8 593.3,1231.3 594.1,1247.5 595.3,1202.9 595.7,1187.8 596.3,1204.7 596.8,1220.3 597.3,1236.9 598.3,1216.4 599.3,1199.2 600,1187.3 600.3,1194 601.3,1217.3 601.7,1226.4 602.3,1247.1 603.3,1278.9 603.7,1291.2 604.3,1284.4 605.2,1272.4 605.9,1258.1 606.3,1249.8 607.3,1224.5 607.6,1215.9 608.3,1204.6 609.3,1186.7 610.3,1174.7 611.3,1187.5 612.2,1207.4 613.3,1215.3 614.3,1244 615.2,1275.9 615.8,1284.4 616.3,1285 617.3,1262.4 618.3,1233 619.2,1205.5 620,1193.6 620.3,1190.5 621.3,1186.9 621.7,1186.7 622.3,1207.1 623.3,1235.3 624.3,1240.4 625.1,1238.4 626.3,1277.5 626.8,1293.3 627.3,1276 628.3,1240.5 629.3,1235.3 629.6,1234.9 630.3,1212.9 631.3,1181.2 631.9,1193.7 632.3,1204.8 633,1222.9 634.3,1200.6 635.2,1186 636.3,1221.8 636.9,1241.4 637.3,1237.5 638.3,1225.7 638.6,1222.3 639.3,1250.8 639.8,1270.2 640.3,1258.6 641.3,1236.6 642.3,1223 643.3,1209.4 643.7,1204.5 644.3,1209.8 645.3,1219.3 646.3,1238.5 647.1,1254 648.3,1235 648.8,1228.3 649.3,1232.7 650.3,1241.8 651.3,1222.4 652.3,1195.8 653.3,1170.7 654.3,1189.5 655.3,1208.8 656.3,1215.5 657.3,1219.7 658.1,1227.3 659.3,1247.8 660.3,1243.6 661.3,1231.5 662.3,1221.9 663.3,1210.2 664.3,1196.4 664.7,1192.8 665.3,1205.7 666.3,1222.8 666.6,1226.8 667.3,1237.5 668.3,1253.3 669.1,1261.6 670.3,1242.6 671.1,1232.1 672.3,1218.2 672.8,1212.6 673.3,1207.1 674.2,1196.6 675.3,1186 676.3,1205.3 677,1218.7 678.3,1225.8 679.3,1233.2 680.3,1244.7 681.3,1257.1 682.1,1265.7 683.3,1249.3 683.8,1243.1 684.3,1235.5 685.3,1219.8 686.3,1200.6 687.3,1179.2 687.7,1169.9 688.3,1183.4 689.3,1206 689.7,1215.8 690.3,1223.7 691.3,1238.9 692.3,1251.5 693.3,1244.4 694,1240.3 694.3,1243.7 695.3,1252.6 695.6,1256 696.3,1236.1 697.3,1200.8 697.9,1180.4 698.3,1190.9 699.3,1215.1 699.9,1229.7 700.3,1229 701.3,1227.7 702.3,1239.8 703.3,1255.8 704.3,1241.2 705,1232 705.3,1236.8 706.3,1252.3 707,1264 707.3,1253.7 708.3,1222.4 709.3,1191.2 709.7,1177.9 710.3,1188.8 711.3,1208.4 711.7,1217.1 712.3,1224 713.3,1234.9 713.8,1240 714.3,1241 715.3,1242.9 716.3,1245.4 716.8,1247.4 717.3,1243.9 718.3,1233.5 719.3,1212.8 720.3,1190.4 721.3,1200.6 722.2,1217.5 723.3,1226.1 723.9,1232.6 724.3,1238.8 725.3,1257 725.6,1262.5 726.3,1258.8 727.3,1253.7 728.3,1258.9 729,1263.6 730.3,1222.6 731.3,1190.8 731.7,1178.1 732.3,1185.1 733.3,1196.8 733.7,1202.7 734.3,1215.4 735.3,1235 736.3,1252.5" fill="none" stroke="#cf1e10" stroke-width="2.4" stroke-linejoin="round" stroke-linecap="round" clip-path="url(#clipc1)"/>
<polyline points="104.3,1229.8 105,1229.8 106.3,1229.8 107.3,1229.8 108.3,1229.8 108.7,1229.8 109.3,1229.8 110.2,1229.8 111.3,1229.8 112.3,1229.8 113.3,1229.8 113.8,1229.8 114.3,1229.8 115.3,1229.8 116.3,1229.8 117,1229.8 117.3,1229.8 118.1,1229.8 119.2,1229.8 120.3,1229.8 121.3,1229.8 122,1229.8 123.3,1229.8 124.3,1229.8 125.2,1229.8 125.9,1225.5 126.3,1221.1 127.3,1207.1 128.3,1199.7 128.6,1204.7 129.3,1237.2 130.2,1269.3 131.3,1234.7 132.1,1213.2 133,1220.4 134.1,1229.8 135.3,1229.8 136.3,1229.8 136.9,1229.8 137.3,1229.8 138.3,1229.8 139.3,1229.8 139.6,1229.8 140.3,1229.8 140.9,1229.8 141.3,1229.8 142.3,1229.8 143.3,1229.8 143.7,1229.8 144.3,1229.8 144.8,1229.8 145.3,1229.8 145.9,1229.8 146.3,1229.8 147.2,1229.8 148.3,1229.8 148.7,1229.8 149.3,1229.8 150.3,1229.8 150.6,1229.8 151.3,1229.8 151.9,1229.8 152.3,1229.8 153.3,1229.8 154.3,1229.8 155,1229.8 156.3,1229.8 157.3,1229.8 157.8,1229.8 158.3,1229.8 159.3,1229.5 160.3,1228.9 161,1228.4 161.3,1228.2 162.3,1227.3 163.3,1226.4 164.1,1225.8 165.3,1225.1 165.7,1225 166.3,1224.8 167.3,1225.2 167.9,1226.1 168.3,1226.9 169.2,1228.8 170.3,1231.3 171.3,1232.5 172.3,1232.6 173.1,1232.4 174.3,1232.1 174.7,1232 175.3,1231.8 175.9,1231.6 176.3,1231.5 177.3,1231.4 177.8,1231.6 178.3,1232.3 179.3,1234.8 180.3,1237.3 180.9,1238.2 181.3,1238.4 182.3,1226 183,1209.8 183.3,1202.5 184.3,1188.2 184.9,1191.1 185.3,1197.9 186.3,1222.9 186.9,1239.3 187.3,1247.8 188.2,1257.7 189.3,1254.7 190.3,1248.2 191.3,1240.4 192.3,1233.5 192.9,1230.6 193.3,1229.1 194.3,1225.5 194.6,1224.4 195.3,1222 196.2,1219 197.3,1215.7 198.2,1213.3 199.3,1211.1 199.8,1210.4 200.3,1209.8 201.3,1209.3 202.3,1210.8 203.3,1215.4 204.1,1220.4 205.3,1230 205.6,1232.7 206.3,1238 207.3,1245.2 207.7,1247.4 208.3,1250.5 209.2,1253 210.3,1251.8 211.3,1247 212.3,1239.9 213.2,1232.8 214.3,1223.7 214.7,1220.5 215.3,1216.9 216.3,1212.8 216.9,1212 217.3,1212.1 217.9,1212.6 218.3,1213.1 219.3,1215.1 220.3,1217.9 221,1220.2 222.3,1224.7 223.3,1228.3 224.2,1231.4 225.3,1235 225.8,1236.3 226.3,1237.6 227.3,1239.5 228.3,1240.3 229.3,1239.2 229.7,1237.8 230.3,1235.2 231.3,1229.2 232.1,1223.9 233.3,1215.2 233.7,1212.9 234.3,1209.1 235.2,1205.1 236.2,1203.5 237.3,1206.3 237.9,1209.7 238.3,1212.6 239.3,1221.3 240.3,1231 240.7,1235.1 241.3,1240.5 242.3,1248.3 243.3,1253.4 243.9,1254.6 244.3,1254.4 245.3,1250.4 246.3,1242.9 246.7,1239.3 247.3,1233.4 248.3,1224.1 249.3,1215.5 249.8,1212.2 250.3,1210.3 250.9,1209.3 251.3,1209.5 252,1210.9 253.3,1215.4 254.3,1220.3 254.9,1223.2 255.3,1225.4 256.3,1230.3 257.3,1234.1 258,1235.8 258.7,1236.4 259.3,1236.3 260.3,1235.5 261.3,1234.4 262.3,1232.9 263.3,1231.4 264,1230.5 264.3,1230.1 265.3,1229.1 265.9,1228.8 266.3,1228.7 267.3,1228.7 268.2,1228.7 269.3,1228.8 269.8,1228.8 270.3,1228.8 271.3,1228.9 272.3,1229 273.3,1229.1 273.7,1229.1 274.3,1229.2 275.3,1229.3 276.3,1229.4 276.9,1229.5 277.3,1229.6 278.3,1229.7 279.3,1229.8 280.3,1229.9 280.8,1230 281.3,1230 282.3,1230.2 283.3,1230.3 284.3,1230.3 285,1230.4 286.3,1230.5 286.6,1230.5 287.3,1230.5 288.2,1230.6 289.3,1230.6 289.6,1230.6 290.2,1230.4 291.3,1229.2 291.8,1228.4 292.3,1227.4 292.9,1226.1 293.3,1225.2 294.2,1223.3 295.3,1221.1 295.7,1220.4 296.3,1219.6 297.3,1219 298.3,1222.8 298.9,1228.1 299.3,1232.6 300.3,1242.3 301.2,1246.1 302,1244.8 303.3,1239.2 304.3,1233.3 305.3,1227.7 306.3,1223.8 307,1222.9 307.3,1222.9 308.3,1223.3 309.3,1224.2 310.3,1225.3 310.7,1225.8 311.3,1226.6 312.3,1228 313,1228.9 314.3,1230.2 314.8,1230.6 315.3,1230.9 316.2,1231.5 316.9,1232.1 317.3,1232.3 318.3,1233 319.3,1233.7 320.3,1234.3 321.3,1234.9 322.3,1235.4 323.3,1235.8 324.3,1236.1 325.3,1236.3 326.3,1236.4 327.2,1234.2 328.3,1226.2 329.1,1220.2 330.3,1215.1 331.3,1218.1 332.3,1224.5 332.7,1227 333.3,1230.6 334.1,1232.6 334.7,1232.5 335.3,1232.3 336.3,1231.7 336.6,1231.5 337.3,1231 338.3,1230.4 339.3,1229.9 340,1229.8 340.3,1229.8 341.3,1229.8 342.3,1229.8 343.3,1229.8 344.3,1229.8 345.3,1229.8 345.7,1229.8 346.3,1229.8 347.3,1229.8 348.3,1229.8 349.2,1229.8 350.3,1229.8 350.8,1229.8 351.3,1229.8 352.3,1229.8 353.3,1229.8 354.3,1229.8 354.7,1229.8 355.3,1229.8 356.3,1229.8 357.3,1229.8 358.3,1229.8 359.1,1229.8 360.3,1229.8 360.7,1229.8 361.3,1229.8 361.8,1229.8 362.3,1229.8 363.3,1229.8 364.3,1229.8 364.9,1229.8 365.3,1229.8 366.3,1229.8 367.3,1229.8 368.1,1229.8 369.3,1229.8 369.6,1229.8 370.3,1229.8 370.8,1229.8 371.3,1229.8 372.3,1229.8 373.3,1229.8 373.9,1229.8 374.3,1229.8 375.3,1229.8 376.3,1229.8 376.7,1229.8 377.3,1229.8 378,1229.8 378.3,1229.8 379.3,1229.8 379.9,1229.8 380.3,1229.8 381.3,1229.8 382.3,1229.8 383,1229.8 384.3,1229.8 385.3,1229.8 386.1,1229.8 387.3,1229.8 387.7,1229.8 388.3,1229.8 389.3,1229.8 390.2,1229.8 391.3,1229.5 392.3,1228.9 393.2,1228.1 394.3,1227.1 394.8,1226.6 395.3,1226.2 396.3,1225.4 397.3,1224.9 397.9,1224.8 398.3,1225 399.3,1228.2 400.3,1233.5 401.1,1237.8 402.3,1242 402.6,1242.2 403.3,1240.9 404.2,1235.6 405.3,1226.4 406.3,1216.3 407.3,1206.5 407.8,1201.9 408.3,1198.7 409.3,1194.7 409.6,1194.4 410.3,1196 411.3,1202.8 412.3,1213 412.9,1219.4 413.3,1224.3 414.3,1234.7 415.3,1241.9 416,1244 417.3,1242.2 417.9,1240.2 418.3,1238.6 419.2,1234.6 420.3,1228.9 420.7,1226.8 421.3,1224.4 422.3,1221.1 423.3,1219.8 423.9,1219.9 424.3,1220.1 425.3,1221 426.3,1222.3 426.7,1222.8 427.3,1223.6 428.3,1224.9 429.3,1226 429.6,1226.2 430.2,1226.6 431.3,1227.4 431.7,1227.7 432.3,1228.1 433.3,1228.7 434.1,1229.2 435.3,1229.8 436.1,1230.1 437.2,1230.3 438.1,1230.4 439.3,1230.4 440.3,1230.3 441.2,1230.2 442.3,1230.1 442.7,1230 443.3,1229.9 444.3,1229.8 445.3,1229.6 445.9,1229.5 446.3,1229.4 447.3,1229.2 447.8,1229.1 448.3,1229 449.3,1228.9 450.3,1228.7 450.9,1228.6 451.3,1228.6 452.3,1228.4 453,1228.4 453.3,1228.4 454.3,1228.3 455,1228.3 455.3,1228.3 456.1,1228.3 457.3,1228.3 457.7,1228.3 458.3,1228.3 459.3,1228.4 459.7,1228.4 460.3,1228.4 461.3,1228.5 461.6,1228.5 462.3,1228.5 463.2,1228.5 464.3,1228.6 465.1,1228.6 466.3,1228.7 466.6,1228.7 467.3,1228.8 468.2,1228.8 469.3,1228.9 469.8,1228.9 470.3,1229 471.3,1229 471.8,1229.1 472.3,1229.1 472.9,1229.2 473.3,1229.2 474.3,1229.2 475,1229.3 475.3,1229.3 476.3,1229.4 477,1229.4 477.3,1229.4 478.3,1229.4 479.3,1229.5 479.7,1229.5 480.3,1229.5 481.3,1229.6 481.6,1229.6 482.3,1229.6 482.9,1229.6 483.3,1229.6 484.3,1229.6 484.6,1229.6 485.3,1229.6 485.7,1229.6 486.3,1229.5 487.3,1229.4 488.3,1229.3 488.8,1229.2 489.3,1229.1 490.3,1228.9 491.3,1228.7 492,1228.5 492.3,1228.4 493.3,1228.2 494.3,1228 494.6,1227.9 495.3,1227.8 496.2,1227.7 497.3,1227.5 497.8,1227.5 498.3,1227.4 499.3,1227.4 500.3,1227.5 501.3,1228 502.3,1228.7 503,1229.1 503.3,1229.4 504.3,1230 505.3,1230.3 505.8,1230.4 506.1,1230.4 507.2,1230.3 508.3,1230.1 508.8,1230 509.3,1229.8 509.9,1229.6 510.3,1229.5 511.3,1229.1 512.3,1228.7 513.3,1228.3 514.3,1227.8 515.1,1227.5 516.3,1227.1 516.6,1226.9 517.3,1226.7 518.2,1226.5 519.3,1226.3 519.8,1226.2 520.3,1226.2 520.6,1226.2 521.3,1226.4 522.3,1227.1 522.9,1227.7 523.3,1228.2 524.3,1229.3 525.3,1230.4 525.6,1230.7 526.3,1231.1 526.9,1231.3 527.3,1231.3 528.3,1231.3 529.3,1231.2 530,1231.1 531.3,1231 532.3,1230.8 533.2,1230.7 534.3,1230.5 534.7,1230.4 535.3,1230.3 536.3,1230.1 537.3,1229.9 537.9,1229.7 538.3,1229.6 539.3,1229.4 540.3,1229.2 541,1229.1 542.3,1228.9 543.3,1228.7 544.2,1228.6 545.3,1228.4 546.3,1228.4 547.3,1228.3 548.1,1228.3 548.9,1228.6 549.3,1229.1 550.3,1230.6 551.3,1232.5 552,1234 553.3,1236 554.3,1236.8 555.3,1233.8 556.3,1225.3 557.3,1217.3 557.9,1215.6 558.3,1216.1 559.1,1219.7 560.3,1228.5 560.7,1231 561.3,1234.8 562.1,1236.8 563.3,1235.7 564.3,1233.8 565.3,1231.4 565.9,1230.2 566.3,1229.3 567.2,1228.3 567.7,1228 568.3,1227.7 569.3,1227.2 570.3,1226.8 571.2,1226.5 572.3,1226.3 573.3,1226.2 574.3,1226.6 574.8,1227.2 575.3,1227.9 576.3,1229.3 577.3,1230.3 577.7,1230.4 578.3,1229.9 579.3,1227.2 580.3,1223.5 581.3,1219.7 581.9,1218.1 582.3,1217.3 582.8,1216.9 583.3,1217.6 584.3,1222.2 585,1227.6 586.3,1239 586.9,1244.6 587.3,1248 587.9,1252.3 588.3,1255.2 589.3,1259 589.6,1259.2 590.3,1257.7 591,1253.4 592.3,1240.7 593.3,1228.8 594.1,1218.8 595.3,1207.3 595.7,1204.3 596.3,1201.6 596.8,1200.8 597.3,1201.3 598.3,1204.9 599.3,1211.2 600,1216.3 600.3,1219.1 601.3,1227.7 601.7,1231 602.3,1236 603.3,1243.1 603.7,1245.4 604.3,1247.8 605.2,1249.4 605.9,1247.4 606.3,1245.1 607.3,1236.2 607.6,1232.8 608.3,1225.7 609.3,1217.1 610.3,1213.5 611.3,1218.1 612.2,1227.9 613.3,1243.5 614.3,1256.7 615.2,1264.9 615.8,1266.4 616.3,1262.7 617.3,1240.2 618.3,1214.3 619.2,1202.9 620,1206.1 620.3,1209 621.3,1221.6 621.7,1227.1 622.3,1236.4 623.3,1248.6 624.3,1253.7 625.1,1252.8 626.3,1247.9 626.8,1245.4 627.3,1242 628.3,1235.4 629.3,1229 629.6,1227.1 630.3,1223.7 631.3,1220.4 631.9,1219.8 632.3,1219.8 633,1220.1 634.3,1221.3 635.2,1222.4 636.3,1224 636.9,1225 637.3,1225.6 638.3,1227.3 638.6,1227.8 639.3,1228.9 639.8,1229.6 640.3,1230.3 641.3,1231.5 642.3,1232.2 643.3,1232.5 643.7,1232.5 644.3,1232.3 645.3,1231.8 646.3,1231.1 647.1,1230.3 648.3,1228.9 648.8,1228.3 649.3,1227.6 650.3,1226.3 651.3,1224.9 652.3,1223.6 653.3,1222.3 654.3,1221.2 655.3,1220.3 656.3,1219.6 657.3,1219.1 658.1,1219 659.3,1220.2 660.3,1222.7 661.3,1225.9 662.3,1229.8 663.3,1233.6 664.3,1237 664.7,1238.1 665.3,1239.6 666.3,1240.9 666.6,1241 667.3,1240.5 668.3,1238.5 669.1,1236.1 670.3,1231.4 671.1,1228.3 672.3,1224.2 672.8,1222.9 673.3,1221.9 674.2,1221.1 675.3,1221.6 676.3,1222.8 677,1224 678.3,1226.2 679.3,1227.9 680.3,1229.1 681.3,1229.6 682.1,1229.6 683.3,1229.6 683.8,1229.6 684.3,1229.6 685.3,1229.6 686.3,1229.6 687.3,1229.6 687.7,1229.6 688.3,1229.6 689.3,1229.6 689.7,1229.6 690.3,1229.6 691.3,1229.6 692.3,1229.6 693.3,1229.6 694,1229.6 694.3,1229.6 695.3,1229.6 695.6,1229.6 696.3,1229.6 697.3,1229.6 697.9,1229.6 698.3,1229.6 699.3,1229.6 699.9,1229.6 700.3,1229.6 701.3,1229.6 702.3,1229.6 703.3,1229.5 704.3,1229.5 705,1229.5 705.3,1229.5 706.3,1229.5 707,1229.5 707.3,1229.5 708.3,1229.5 709.3,1229.5 709.7,1229.5 710.3,1229.5 711.3,1229.5 711.7,1229.4 712.3,1229.4 713.3,1229.4 713.8,1229.4 714.3,1229.4 715.3,1229.4 716.3,1229.4 716.8,1229.4 717.3,1229.3 718.3,1229.3 719.3,1229.3 720.3,1229.3 721.3,1229.3 722.2,1229.2 723.3,1229.2 723.9,1229.2 724.3,1229.2 725.3,1229.1 725.6,1229.1 726.3,1229.1 727.3,1229.1 728.3,1229 729,1229 730.3,1229 731.3,1228.9 731.7,1228.9 732.3,1228.9 733.3,1228.8 733.7,1228.8 734.3,1228.8 735.3,1228.8 736.3,1228.7" fill="none" stroke="#000" stroke-width="4.5" stroke-linejoin="round" stroke-linecap="round" clip-path="url(#clipc1)"/>
<rect x="137.1" y="1132.1" width="158.6" height="157" rx="44" ry="39.5" fill="none" stroke="#c8c8c8" stroke-width="4"/>
<rect x="568.9" y="1159.1" width="110.2" height="148" rx="34" ry="38" fill="none" stroke="#c8c8c8" stroke-width="4"/>
<line x1="104.2" y1="1143" x2="104.2" y2="1315.5" stroke="#000" stroke-width="2.6" stroke-linecap="butt"/>
<line x1="102.9" y1="1314.2" x2="737.5" y2="1314.2" stroke="#000" stroke-width="2.6" stroke-linecap="butt"/>
<line x1="104.2" y1="1144.2" x2="111.5" y2="1144.2" stroke="#000" stroke-width="2.6" stroke-linecap="butt"/>
<line x1="104.2" y1="1229" x2="111.5" y2="1229" stroke="#000" stroke-width="2.6" stroke-linecap="butt"/>
<line x1="151.9" y1="1307.2" x2="151.9" y2="1314.2" stroke="#000" stroke-width="2.6" stroke-linecap="butt"/>
<line x1="238.5" y1="1307.2" x2="238.5" y2="1314.2" stroke="#000" stroke-width="2.6" stroke-linecap="butt"/>
<line x1="325.1" y1="1307.2" x2="325.1" y2="1314.2" stroke="#000" stroke-width="2.6" stroke-linecap="butt"/>
<line x1="411.7" y1="1307.2" x2="411.7" y2="1314.2" stroke="#000" stroke-width="2.6" stroke-linecap="butt"/>
<line x1="498.3" y1="1307.2" x2="498.3" y2="1314.2" stroke="#000" stroke-width="2.6" stroke-linecap="butt"/>
<line x1="584.9" y1="1307.2" x2="584.9" y2="1314.2" stroke="#000" stroke-width="2.6" stroke-linecap="butt"/>
<line x1="671.5" y1="1307.2" x2="671.5" y2="1314.2" stroke="#000" stroke-width="2.6" stroke-linecap="butt"/>
<text x="75.8" y="1146.5" font-size="28" text-anchor="start" font-weight="normal" font-family='"Liberation Sans", Arial, Helvetica, sans-serif' fill="#000">1</text>
<text x="79.1" y="1230.7" font-size="28" text-anchor="start" font-weight="normal" font-family='"Liberation Sans", Arial, Helvetica, sans-serif' fill="#000">0</text>
<text x="66.5" y="1316.8" font-size="28" text-anchor="start" font-weight="normal" font-family='"Liberation Sans", Arial, Helvetica, sans-serif' fill="#000">-1</text>
<text x="106.2" y="1135.3" font-size="22.3" text-anchor="start" font-weight="200" font-family='"DejaVu Sans", sans-serif' fill="#000">×</text>
<text x="124.6" y="1129.7" font-size="27.7" text-anchor="start" font-weight="normal" font-family='"Liberation Sans", Arial, Helvetica, sans-serif' fill="#000">10</text>
<text x="153.8" y="1118.8" font-size="27.7" text-anchor="start" font-weight="normal" font-family='"Liberation Sans", Arial, Helvetica, sans-serif' fill="#000">-</text>
<text x="163.1" y="1118.8" font-size="27.7" text-anchor="start" font-weight="normal" font-family='"Liberation Sans", Arial, Helvetica, sans-serif' fill="#000">3</text>
<polyline points="104.3,1424.9 105,1455.6 106.3,1449.3 107.3,1458.4 108.3,1471.3 108.7,1477.5 109.3,1468.6 110.2,1453.8 111.3,1466.4 112.3,1473.6 113.3,1455.1 113.8,1438.1 114.3,1422.5 115.3,1394.3 116.3,1416.8 117,1436.3 117.3,1437.9 118.1,1439.2 119.2,1442.4 120.3,1495 121.3,1466 122,1438.2 123.3,1466.5 124.3,1455.9 125.2,1426.4 125.9,1400.4 126.3,1409.6 127.3,1434.3 128.3,1453 128.6,1456.6 129.3,1453 130.2,1448.7 131.3,1458.7 132.1,1461.3 133,1462.9 134.1,1490.3 135.3,1449.8 136.3,1440.1 136.9,1434.4 137.3,1431.8 138.3,1425.1 139.3,1418.9 139.6,1417.3 140.3,1444.8 140.9,1467.8 141.3,1462.6 142.3,1451 143.3,1440.9 143.7,1436.8 144.3,1463.8 144.8,1486.3 145.3,1466.1 145.9,1443.1 146.3,1433.4 147.2,1410.2 148.3,1434.3 148.7,1442.4 149.3,1440 150.3,1435.9 150.6,1433.2 151.3,1443.8 151.9,1453 152.3,1453.6 153.3,1457.6 154.3,1467.7 155,1474.9 156.3,1445.8 157.3,1421.6 157.8,1406.6 158.3,1411.4 159.3,1423.6 160.3,1433.9 161,1441.8 161.3,1450 162.3,1474.5 163.3,1467.4 164.1,1453.5 165.3,1455.9 165.7,1455.6 166.3,1443.1 167.3,1421.6 167.9,1409.2 168.3,1414.2 169.2,1425.8 170.3,1430.3 171.3,1435.6 172.3,1451.3 173.1,1466.5 174.3,1462.2 174.7,1460.2 175.3,1469 175.9,1476.7 176.3,1469.7 177.3,1453.5 177.8,1446.2 178.3,1433.5 179.3,1404.1 180.3,1421.2 180.9,1434.8 181.3,1437 182.3,1441.7 183,1443.5 183.3,1447.9 184.3,1465.2 184.9,1475.8 185.3,1477.3 186.3,1481.7 186.9,1484.4 187.3,1473.5 188.2,1447 189.3,1418.9 190.3,1411.7 191.3,1408.6 192.3,1421.8 192.9,1432.9 193.3,1439.8 194.3,1454.9 194.6,1459.8 195.3,1461.6 196.2,1465.6 197.3,1478.7 198.2,1490.4 199.3,1470.9 199.8,1461 200.3,1451.3 201.3,1430 202.3,1402.1 203.3,1420.8 204.1,1443.5 205.3,1439.5 205.6,1438.5 206.3,1450.9 207.3,1470.4 207.7,1477.8 208.3,1463.5 209.2,1442.5 210.3,1460.2 211.3,1476.7 212.3,1447.8 213.2,1422 214.3,1432.2 214.7,1435.1 215.3,1437.3 216.3,1439.3 216.9,1442.8 217.3,1444.5 217.9,1448 218.3,1447.5 219.3,1446 220.3,1453.5 221,1460.4 222.3,1465 223.3,1458.2 224.2,1448.7 225.3,1439.5 225.8,1436.1 226.3,1435.4 227.3,1436.6 228.3,1438.8 229.3,1439.5 229.7,1439.7 230.3,1450.2 231.3,1467.8 232.1,1480.5 233.3,1477.8 233.7,1477.4 234.3,1471.6 235.2,1462.8 236.2,1431.9 237.3,1396.6 237.9,1377.1 238.3,1387.5 239.3,1415.6 240.3,1445.9 240.7,1458.1 241.3,1461.5 242.3,1468 243.3,1477.4 243.9,1483 244.3,1482 245.3,1483.1 246.3,1488.2 246.7,1489.4 247.3,1458.3 248.3,1408 249.3,1418.5 249.8,1422.4 250.3,1422.3 250.9,1422.7 251.3,1423.2 252,1422.3 253.3,1443.8 254.3,1465 254.9,1476.5 255.3,1480.7 256.3,1488.1 257.3,1480.6 258,1474.1 258.7,1456.1 259.3,1439.9 260.3,1413.1 261.3,1410 262.3,1405.8 263.3,1423.7 264,1437.2 264.3,1442 265.3,1452.7 265.9,1458.5 266.3,1464.9 267.3,1479.7 268.2,1492.7 269.3,1475.3 269.8,1467.7 270.3,1465.5 271.3,1461.8 272.3,1434.9 273.3,1406 273.7,1394.5 274.3,1401.9 275.3,1414.5 276.3,1436.4 276.9,1449.6 277.3,1454.8 278.3,1459.4 279.3,1468.9 280.3,1480.5 280.8,1486 281.3,1475.3 282.3,1454.1 283.3,1433.1 284.3,1413.6 285,1398.8 286.3,1429.1 286.6,1435.4 287.3,1440.3 288.2,1446.4 289.3,1466.6 289.6,1471.8 290.2,1483 291.3,1464.7 291.8,1458.4 292.3,1456.8 292.9,1453.1 293.3,1461.2 294.2,1480.9 295.3,1465.9 295.7,1460.5 296.3,1458.8 297.3,1456.6 298.3,1454.2 298.9,1452.3 299.3,1456.4 300.3,1467.1 301.2,1465 302,1461.8 303.3,1479.9 304.3,1466.5 305.3,1442.3 306.3,1430 307,1423 307.3,1420.8 308.3,1409.2 309.3,1421.1 310.3,1432.7 310.7,1436 311.3,1441.2 312.3,1453.2 313,1461.4 314.3,1469.8 314.8,1473.8 315.3,1469.6 316.2,1462.6 316.9,1479 317.3,1473.5 318.3,1455.2 319.3,1428.8 320.3,1401.4 321.3,1406.9 322.3,1426.9 323.3,1439.7 324.3,1450.3 325.3,1461.4 326.3,1473.7 327.2,1484.4 328.3,1466.7 329.1,1453.7 330.3,1434.2 331.3,1417.4 332.3,1404.3 332.7,1399.9 333.3,1409.7 334.1,1423.8 334.7,1433.3 335.3,1437.7 336.3,1445 336.6,1447.4 337.3,1458.3 338.3,1474 339.3,1481 340,1484 340.3,1485 341.3,1471.8 342.3,1453.5 343.3,1438.7 344.3,1426.8 345.3,1416.7 345.7,1412.4 346.3,1420.5 347.3,1434 348.3,1437.1 349.2,1439.2 350.3,1482.5 350.8,1499.9 351.3,1491 352.3,1473.6 353.3,1455.4 354.3,1437.5 354.7,1431.7 355.3,1421.6 356.3,1404.4 357.3,1388.7 358.3,1408.9 359.1,1433.8 360.3,1452.8 360.7,1458.2 361.3,1469.3 361.8,1478.3 362.3,1480 363.3,1483.4 364.3,1469.1 364.9,1459.8 365.3,1457 366.3,1447.6 367.3,1429.9 368.1,1413.9 369.3,1421 369.6,1423.5 370.3,1438.6 370.8,1448.4 371.3,1452.8 372.3,1465.5 373.3,1458.2 373.9,1452.2 374.3,1452.5 375.3,1450.2 376.3,1463.5 376.7,1468.9 377.3,1457.3 378,1446.6 378.3,1439.7 379.3,1420.6 379.9,1410.5 380.3,1420.2 381.3,1442.6 382.3,1452.2 383,1459.1 384.3,1446.3 385.3,1467.1 386.1,1483.5 387.3,1466 387.7,1459.3 388.3,1454.2 389.3,1447.2 390.2,1423.6 391.3,1393.4 392.3,1412.5 393.2,1432 394.3,1443.1 394.8,1448.9 395.3,1457.2 396.3,1471.7 397.3,1467.4 397.9,1464.9 398.3,1468.3 399.3,1477.2 400.3,1466.2 401.1,1451.8 402.3,1430.1 402.6,1426.5 403.3,1433.8 404.2,1446.1 405.3,1442.5 406.3,1439.8 407.3,1448.2 407.8,1456.1 408.3,1458.5 409.3,1464.1 409.6,1463.6 410.3,1460.6 411.3,1454.1 412.3,1438.7 412.9,1432.1 413.3,1429.4 414.3,1416.8 415.3,1428.3 416,1440.3 417.3,1441.7 417.9,1443.9 418.3,1456.9 419.2,1482.4 420.3,1458.8 420.7,1450.1 421.3,1451.1 422.3,1453.2 423.3,1443.9 423.9,1439 424.3,1438.6 425.3,1433 426.3,1407 426.7,1397.3 427.3,1411.5 428.3,1433.4 429.3,1437.9 429.6,1439.3 430.2,1443.4 431.3,1467.1 431.7,1475.4 432.3,1476.1 433.3,1479.2 434.1,1480.2 435.3,1487.5 436.1,1493.6 437.2,1424.1 438.1,1416.9 439.3,1407.4 440.3,1408.8 441.2,1410.3 442.3,1465.6 442.7,1488.2 443.3,1479.5 444.3,1464.2 445.3,1455.7 445.9,1450.3 446.3,1457 447.3,1471.9 447.8,1479.1 448.3,1464.4 449.3,1436.5 450.3,1414.7 450.9,1402.6 451.3,1406.4 452.3,1416.4 453,1422.3 453.3,1423.9 454.3,1426.3 455,1437.2 455.3,1444.6 456.1,1462.9 457.3,1484 457.7,1490.8 458.3,1490.5 459.3,1486.3 459.7,1484.8 460.3,1472.3 461.3,1451.8 461.6,1447.1 462.3,1433.6 463.2,1414.3 464.3,1399 465.1,1387.8 466.3,1419.3 466.6,1428.2 467.3,1440.1 468.2,1456.3 469.3,1468.7 469.8,1473.7 470.3,1473.6 471.3,1475.2 471.8,1476 472.3,1480.1 472.9,1484.6 473.3,1474.9 474.3,1448.2 475,1431.4 475.3,1428.2 476.3,1420.2 477,1413.8 477.3,1416.1 478.3,1427.7 479.3,1437.7 479.7,1442.7 480.3,1449.1 481.3,1458.3 481.6,1461.3 482.3,1472.5 482.9,1482.7 483.3,1477.3 484.3,1463.9 484.6,1465.4 485.3,1476.1 485.7,1481.3 486.3,1465.4 487.3,1441.4 488.3,1420 488.8,1409 489.3,1410.9 490.3,1414.6 491.3,1432.5 492,1448 492.3,1450.9 493.3,1462.9 494.3,1482.4 494.6,1489.9 495.3,1477.1 496.2,1460.4 497.3,1467.3 497.8,1471.2 498.3,1461.3 499.3,1441.1 500.3,1427.8 501.3,1412.8 502.3,1417.3 503,1424.4 503.3,1429.7 504.3,1444.6 505.3,1455.5 505.8,1460.7 506.1,1463.1 507.2,1478.7 508.3,1471.9 508.8,1468.3 509.3,1473.4 509.9,1478.4 510.3,1468.1 511.3,1442.1 512.3,1420.8 513.3,1402.1 514.3,1413.8 515.1,1427.5 516.3,1466.8 516.6,1478.7 517.3,1469.5 518.2,1457.2 519.3,1468.2 519.8,1474.1 520.3,1470.6 520.6,1467.7 521.3,1459.8 522.3,1432.6 522.9,1414.8 523.3,1420.7 524.3,1437.9 525.3,1422.3 525.6,1414.5 526.3,1431.1 526.9,1444.2 527.3,1443.1 528.3,1439.4 529.3,1460.7 530,1478.9 531.3,1453.4 532.3,1461.3 533.2,1478 534.3,1465.6 534.7,1461 535.3,1443.9 536.3,1414.9 537.3,1425.6 537.9,1430.6 538.3,1434.8 539.3,1446.3 540.3,1455.6 541,1459.9 542.3,1471.1 543.3,1466.7 544.2,1459.6 545.3,1479.9 546.3,1446.4 547.3,1406 548.1,1419.5 548.9,1433.6 549.3,1431 550.3,1425.2 551.3,1465.7 552,1502.2 553.3,1449.1 554.3,1453.9 555.3,1476.9 556.3,1449.1 557.3,1411.1 557.9,1406.5 558.3,1410.1 559.1,1418.4 560.3,1437.3 560.7,1444.8 561.3,1461.7 562.1,1481.6 563.3,1457.2 564.3,1432 565.3,1477 565.9,1499.5 566.3,1487 567.2,1464.3 567.7,1451.3 568.3,1447.8 569.3,1442.2 570.3,1434.3 571.2,1425.7 572.3,1455.8 573.3,1457.8 574.3,1456 574.8,1455.1 575.3,1464.5 576.3,1488.2 577.3,1459.7 577.7,1447.1 578.3,1439.6 579.3,1442.9 580.3,1437.8 581.3,1429.5 581.9,1424.5 582.3,1430.7 582.8,1437.5 583.3,1444.1 584.3,1436.7 585,1427.9 586.3,1438.9 586.9,1443.4 587.3,1462.6 587.9,1490 588.3,1470.9 589.3,1427.2 589.6,1424.5 590.3,1441.6 591,1461 592.3,1435.1 593.3,1451.5 594.1,1477.7 595.3,1444.6 595.7,1432.5 596.3,1452.1 596.8,1468.5 597.3,1484.6 598.3,1460.5 599.3,1437 600,1420 600.3,1424 601.3,1438.6 601.7,1444.4 602.3,1460.1 603.3,1484.8 603.7,1494.8 604.3,1485.5 605.2,1472 605.9,1459.7 606.3,1453.7 607.3,1437.3 607.6,1432 608.3,1427.9 609.3,1418.6 610.3,1410.2 611.3,1418.3 612.2,1428.4 613.3,1420.7 614.3,1436.2 615.2,1460.1 615.8,1467 616.3,1471.3 617.3,1471.2 618.3,1467.7 619.2,1451.6 620,1436.5 620.3,1430.5 621.3,1414.2 621.7,1408.6 622.3,1419.7 623.3,1435.7 624.3,1435.7 625.1,1434.6 626.3,1478.6 626.8,1496.9 627.3,1482.9 628.3,1454.1 629.3,1455.3 629.6,1456.8 630.3,1438.3 631.3,1409.8 631.9,1422.9 632.3,1434 633,1451.7 634.3,1428.4 635.2,1412.6 636.3,1446.8 636.9,1465.4 637.3,1460.8 638.3,1447.4 638.6,1443.5 639.3,1470.8 639.8,1489.6 640.3,1477.3 641.3,1454.1 642.3,1439.7 643.3,1425.9 643.7,1421.1 644.3,1426.5 645.3,1436.5 646.3,1456.5 647.1,1472.7 648.3,1455.1 648.8,1448.9 649.3,1454.1 650.3,1464.5 651.3,1446.4 652.3,1421.2 653.3,1397.4 654.3,1417.3 655.3,1437.5 656.3,1444.9 657.3,1449.6 658.1,1457.3 659.3,1476.6 660.3,1469.9 661.3,1454.6 662.3,1441.1 663.3,1425.6 664.3,1408.4 664.7,1403.7 665.3,1415.1 666.3,1430.9 666.6,1434.8 667.3,1446 668.3,1463.9 669.1,1474.6 670.3,1460.2 671.1,1452.7 672.3,1442.9 672.8,1438.7 673.3,1434.2 674.2,1424.5 675.3,1413.4 676.3,1431.5 677,1443.6 678.3,1448.6 679.3,1454.3 680.3,1464.7 681.3,1476.5 682.1,1485.1 683.3,1468.7 683.8,1462.5 684.3,1454.9 685.3,1439.2 686.3,1420 687.3,1398.6 687.7,1389.3 688.3,1402.8 689.3,1425.4 689.7,1435.2 690.3,1443.1 691.3,1458.3 692.3,1470.9 693.3,1463.8 694,1459.7 694.3,1463.1 695.3,1472 695.6,1475.5 696.3,1455.5 697.3,1420.2 697.9,1399.8 698.3,1410.4 699.3,1434.5 699.9,1449.2 700.3,1448.4 701.3,1447.1 702.3,1459.2 703.3,1475.3 704.3,1460.6 705,1451.5 705.3,1456.3 706.3,1471.8 707,1483.5 707.3,1473.2 708.3,1441.9 709.3,1410.8 709.7,1397.4 710.3,1408.3 711.3,1428 711.7,1436.6 712.3,1443.5 713.3,1454.5 713.8,1459.6 714.3,1460.6 715.3,1462.5 716.3,1465.1 716.8,1467.1 717.3,1463.5 718.3,1453.2 719.3,1432.5 720.3,1410.1 721.3,1420.4 722.2,1437.3 723.3,1445.9 723.9,1452.4 724.3,1458.6 725.3,1476.9 725.6,1482.4 726.3,1478.7 727.3,1473.6 728.3,1478.9 729,1483.6 730.3,1442.6 731.3,1410.8 731.7,1398.2 732.3,1405.2 733.3,1416.9 733.7,1422.9 734.3,1435.6 735.3,1455.3 736.3,1472.8" fill="none" stroke="#a02522" stroke-width="2.5" stroke-linejoin="round" stroke-linecap="round" clip-path="url(#clipc2)"/>
<rect x="137.1" y="1367.8" width="158.6" height="141" rx="44" ry="39.5" fill="none" stroke="#c8c8c8" stroke-width="4"/>
<rect x="568.9" y="1383" width="109.7" height="135.7" rx="34" ry="38" fill="none" stroke="#c8c8c8" stroke-width="4"/>
<line x1="104.2" y1="1362.5" x2="104.2" y2="1535.5" stroke="#000" stroke-width="2.6" stroke-linecap="butt"/>
<line x1="102.9" y1="1534.3" x2="737.5" y2="1534.3" stroke="#000" stroke-width="2.6" stroke-linecap="butt"/>
<line x1="104.2" y1="1363.7" x2="111.5" y2="1363.7" stroke="#000" stroke-width="2.6" stroke-linecap="butt"/>
<line x1="104.2" y1="1448.9" x2="111.5" y2="1448.9" stroke="#000" stroke-width="2.6" stroke-linecap="butt"/>
<line x1="151.9" y1="1527.3" x2="151.9" y2="1534.3" stroke="#000" stroke-width="2.6" stroke-linecap="butt"/>
<line x1="238.5" y1="1527.3" x2="238.5" y2="1534.3" stroke="#000" stroke-width="2.6" stroke-linecap="butt"/>
<line x1="325.1" y1="1527.3" x2="325.1" y2="1534.3" stroke="#000" stroke-width="2.6" stroke-linecap="butt"/>
<line x1="411.7" y1="1527.3" x2="411.7" y2="1534.3" stroke="#000" stroke-width="2.6" stroke-linecap="butt"/>
<line x1="498.3" y1="1527.3" x2="498.3" y2="1534.3" stroke="#000" stroke-width="2.6" stroke-linecap="butt"/>
<line x1="584.9" y1="1527.3" x2="584.9" y2="1534.3" stroke="#000" stroke-width="2.6" stroke-linecap="butt"/>
<line x1="671.5" y1="1527.3" x2="671.5" y2="1534.3" stroke="#000" stroke-width="2.6" stroke-linecap="butt"/>
<text x="74.9" y="1372.1" font-size="28" text-anchor="start" font-weight="normal" font-family='"Liberation Sans", Arial, Helvetica, sans-serif' fill="#000">1</text>
<text x="78.7" y="1451" font-size="28" text-anchor="start" font-weight="normal" font-family='"Liberation Sans", Arial, Helvetica, sans-serif' fill="#000">0</text>
<text x="65.6" y="1535.9" font-size="28" text-anchor="start" font-weight="normal" font-family='"Liberation Sans", Arial, Helvetica, sans-serif' fill="#000">-1</text>
<text x="106.7" y="1363.1" font-size="22.3" text-anchor="start" font-weight="200" font-family='"DejaVu Sans", sans-serif' fill="#000">×</text>
<text x="124.9" y="1361.9" font-size="27.7" text-anchor="start" font-weight="normal" font-family='"Liberation Sans", Arial, Helvetica, sans-serif' fill="#000">10</text>
<text x="154.3" y="1346.7" font-size="27.7" text-anchor="start" font-weight="normal" font-family='"Liberation Sans", Arial, Helvetica, sans-serif' fill="#000">-</text>
<text x="163.3" y="1346.7" font-size="27.7" text-anchor="start" font-weight="normal" font-family='"Liberation Sans", Arial, Helvetica, sans-serif' fill="#000">3</text>
<text x="131.7" y="1563.6" font-size="28" text-anchor="start" font-weight="normal" font-family='"Liberation Sans", Arial, Helvetica, sans-serif' fill="#000">40</text>
<text x="398.8" y="1563.6" font-size="28" text-anchor="start" font-weight="normal" font-family='"Liberation Sans", Arial, Helvetica, sans-serif' fill="#000">60</text>
<text x="651.8" y="1563.6" font-size="28" text-anchor="start" font-weight="normal" font-family='"Liberation Sans", Arial, Helvetica, sans-serif' fill="#000">80</text>
<text x="383.7" y="1596.4" font-size="31.44" text-anchor="start" font-weight="normal" font-family='"Liberation Sans", Arial, Helvetica, sans-serif' fill="#000">Time (s)</text>
<line x1="212.5" y1="1289" x2="212.5" y2="1343.5" stroke="#c8c8c8" stroke-width="4.2" stroke-linecap="butt"/>
<polygon points="186,1342.5 239,1342.5 212.5,1366" fill="#c8c8c8"/>
<line x1="625" y1="1308" x2="625" y2="1358.5" stroke="#c8c8c8" stroke-width="4.2" stroke-linecap="butt"/>
<polygon points="599,1357.5 651.7,1357.5 625.4,1379.7" fill="#c8c8c8"/>
<rect x="242.4" y="1343" width="41.9" height="43" fill="#e8e000"/>
<text transform="translate(259.2,1379.2) scale(0.849,1)" x="-2.7" y="0" font-size="38.53" font-weight="bold" font-family='"DejaVu Sans", sans-serif' fill="#000">?</text>
<rect x="552" y="1356.4" width="42" height="43.2" fill="#e8e000"/>
<text transform="translate(568.5,1392.9) scale(0.834,1)" x="-2.7" y="0" font-size="38.67" font-weight="bold" font-family='"DejaVu Sans", sans-serif' fill="#000">?</text>
<rect x="653.5" y="1335" width="172.4" height="46.6" fill="#fff" stroke="#000" stroke-width="2.2"/>
<line x1="669" y1="1356" x2="709" y2="1356" stroke="#a02522" stroke-width="2.5" stroke-linecap="butt"/>
<text x="720" y="1367" font-size="30.6" text-anchor="start" font-weight="normal" font-family='"Liberation Sans", Arial, Helvetica, sans-serif' fill="#000">R</text>
<text x="739.8" y="1369.8" font-size="29.6" text-anchor="start" font-weight="normal" font-family='"Liberation Sans", Arial, Helvetica, sans-serif' fill="#000">n</text>
<text x="762.6" y="1367" font-size="30.6" text-anchor="start" font-weight="normal" font-family='"Liberation Sans", Arial, Helvetica, sans-serif' fill="#000">-</text>
<text x="779.3" y="1367" font-size="30.6" text-anchor="start" font-weight="normal" font-family='"Liberation Sans", Arial, Helvetica, sans-serif' fill="#000">m</text>
<text x="804.6" y="1372" font-size="29.6" text-anchor="start" font-weight="normal" font-family='"Liberation Sans", Arial, Helvetica, sans-serif' fill="#000">e</text>
<rect x="687.8" y="1075.1" width="137.4" height="88.8" fill="#fff" stroke="#000" stroke-width="2.2"/>
<line x1="702.7" y1="1098.8" x2="747.7" y2="1098.8" stroke="#000" stroke-width="4.6" stroke-linecap="butt"/>
<line x1="702.7" y1="1138.4" x2="747.7" y2="1138.4" stroke="#cf1e10" stroke-width="2.5" stroke-linecap="butt"/>
<text x="761" y="1105.4" font-size="32.5" text-anchor="start" font-weight="normal" font-family='"Liberation Sans", Arial, Helvetica, sans-serif' fill="#000">m</text>
<text x="786.7" y="1111.4" font-size="31" text-anchor="start" font-weight="normal" font-family='"Liberation Sans", Arial, Helvetica, sans-serif' fill="#000">e</text>
<text x="765.3" y="1152.5" font-size="32.5" text-anchor="start" font-weight="normal" font-family='"Liberation Sans", Arial, Helvetica, sans-serif' fill="#000">R</text>
<text x="788.2" y="1157" font-size="31" text-anchor="start" font-weight="normal" font-family='"Liberation Sans", Arial, Helvetica, sans-serif' fill="#000">n</text>
<text x="-3" y="0" font-size="36.07" text-anchor="start" font-weight="normal" font-family='"Liberation Sans", Arial, Helvetica, sans-serif' fill="#000" transform="translate(31.8,1508.7) rotate(-90)">Remote-PPG (AC/DC)</text>
<text x="299.3" y="1133" font-size="42.5" text-anchor="start" font-weight="bold" font-family='"Liberation Sans", Arial, Helvetica, sans-serif' fill="#000">(c)</text>
<text x="359.5" y="1133" font-size="35.8" text-anchor="start" font-weight="normal" font-family='"Liberation Sans", Arial, Helvetica, sans-serif' fill="#000">Subject 46</text>
</svg></body></html>
